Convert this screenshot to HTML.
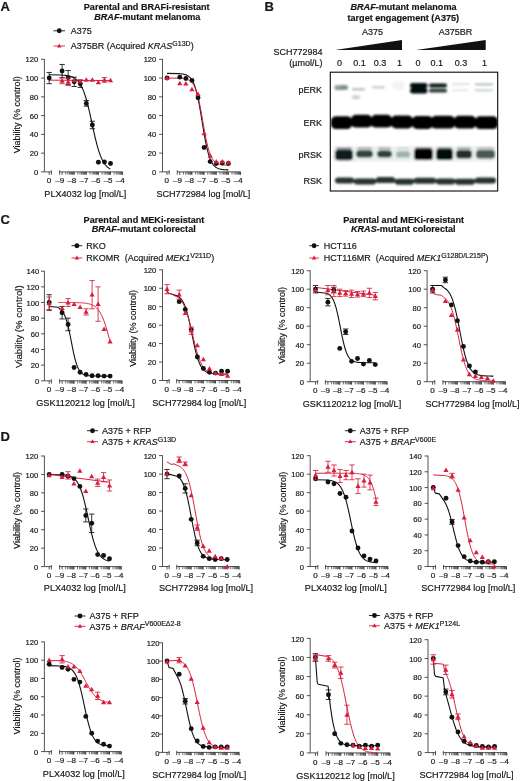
<!DOCTYPE html>
<html><head><meta charset="utf-8"><title>Figure</title>
<style>html,body{margin:0;padding:0;background:#fff}svg{display:block;font-family:"Liberation Sans", Arial, sans-serif}text{fill:#161616;stroke:#161616;stroke-width:0.18px}</style>
</head><body>
<svg width="520" height="781" viewBox="0 0 520 781">
<rect width="520" height="781" fill="#fff"/>
<text x="0.6" y="10.8" font-size="13" font-weight="bold" fill="#000">A</text>
<text x="264.5" y="10.9" font-size="13" font-weight="bold" fill="#000">B</text>
<text x="0.4" y="224" font-size="13" font-weight="bold" fill="#000">C</text>
<text x="0.6" y="440.5" font-size="13" font-weight="bold" fill="#000">D</text>
<text x="146.7" y="10.2" text-anchor="middle" font-size="9.1" font-weight="bold" fill="#111">Parental and BRAFi-resistant</text>
<text x="147.3" y="19.9" text-anchor="middle" font-size="9.1" font-weight="bold" fill="#111"><tspan font-style="italic">BRAF</tspan>-mutant melanoma</text>
<path d="M53.5 30.8h11.5" stroke="#111" stroke-width="0.9"/><circle cx="59.25" cy="30.8" r="2.45" fill="#111"/><text x="70.8" y="34" font-size="9" >A375</text>
<path d="M53.5 46h11.5" stroke="#d81e3c" stroke-width="0.9"/><path d="M59.25 43.5l2.2 3.9h-4.4z" fill="#d81e3c"/><text x="70.8" y="49.2" font-size="9" >A375BR (Acquired <tspan font-style="italic">KRAS</tspan><tspan dy="-3.2" font-size="7">G13D</tspan><tspan dy="3.2">)</tspan></text>
<g><path d="M44.4 59V171.9" stroke="#2a2a2a" stroke-width="0.8" fill="none"/>
<path d="M41 171.9H44.4M41 153.13H44.4M41 134.37H44.4M41 115.6H44.4M41 96.83H44.4M41 78.07H44.4M41 59.3H44.4" stroke="#2a2a2a" stroke-width="0.8" fill="none"/>
<text x="38.2" y="175" text-anchor="end" font-size="7.6">0</text>
<text x="38.2" y="156.23" text-anchor="end" font-size="7.6">20</text>
<text x="38.2" y="137.47" text-anchor="end" font-size="7.6">40</text>
<text x="38.2" y="118.7" text-anchor="end" font-size="7.6">60</text>
<text x="38.2" y="99.93" text-anchor="end" font-size="7.6">80</text>
<text x="38.2" y="81.17" text-anchor="end" font-size="7.6">100</text>
<text x="38.2" y="62.4" text-anchor="end" font-size="7.6">120</text>
<path d="M44.4 171.9H51.4M49.2 171.9v3M51.4 170.3v4.4M59.6 171.9H122.6M59.6 170.3v4.4M62.1 171.9v3M74.2 171.9v3M86.3 171.9v3M98.4 171.9v3M110.5 171.9v3M122.6 171.9v3" stroke="#2a2a2a" stroke-width="0.8" fill="none"/>
<path d="M65.74 171.9v2.7M67.87 171.9v2.7M69.38 171.9v2.7M70.56 171.9v2.7M71.52 171.9v2.7M72.33 171.9v2.7M73.03 171.9v2.7M73.65 171.9v2.7M77.84 171.9v2.7M79.97 171.9v2.7M81.48 171.9v2.7M82.66 171.9v2.7M83.62 171.9v2.7M84.43 171.9v2.7M85.13 171.9v2.7M85.75 171.9v2.7M89.94 171.9v2.7M92.07 171.9v2.7M93.58 171.9v2.7M94.76 171.9v2.7M95.72 171.9v2.7M96.53 171.9v2.7M97.23 171.9v2.7M97.85 171.9v2.7M102.04 171.9v2.7M104.17 171.9v2.7M105.68 171.9v2.7M106.86 171.9v2.7M107.82 171.9v2.7M108.63 171.9v2.7M109.33 171.9v2.7M109.95 171.9v2.7M114.14 171.9v2.7M116.27 171.9v2.7M117.78 171.9v2.7M118.96 171.9v2.7M119.92 171.9v2.7M120.73 171.9v2.7M121.43 171.9v2.7M122.05 171.9v2.7" stroke="#333" stroke-width="0.7" fill="none"/>
<text x="49" y="183.2" text-anchor="middle" font-size="8" >0</text>
<text x="59.7" y="183.2" text-anchor="middle" font-size="8" >–9</text>
<text x="71.8" y="183.2" text-anchor="middle" font-size="8" >–8</text>
<text x="83.9" y="183.2" text-anchor="middle" font-size="8" >–7</text>
<text x="96" y="183.2" text-anchor="middle" font-size="8" >–6</text>
<text x="108.1" y="183.2" text-anchor="middle" font-size="8" >–5</text>
<text x="120.2" y="183.2" text-anchor="middle" font-size="8" >–4</text>
<text x="85.3" y="196.7" text-anchor="middle" font-size="9.1" >PLX4032 log [mol/L]</text>
<text transform="translate(20.1 114.8) rotate(-90)" text-anchor="middle" font-size="9" >Viability (% control)</text>
<path d="M49.2 74.78L60.65 75.03L61.27 75.06L61.89 75.1L62.52 75.14L63.14 75.18L63.76 75.23L64.39 75.29L65.01 75.35L65.63 75.42L66.26 75.5L66.88 75.59L67.5 75.69L68.13 75.81L68.75 75.93L69.37 76.08L70 76.24L70.62 76.42L71.24 76.62L71.86 76.85L72.49 77.1L73.11 77.39L73.73 77.7L74.36 78.06L74.98 78.46L75.6 78.9L76.23 79.39L76.85 79.94L77.47 80.55L78.1 81.23L78.72 81.98L79.34 82.81L79.97 83.73L80.59 84.74L81.21 85.85L81.84 87.07L82.46 88.4L83.08 89.85L83.7 91.42L84.33 93.12L84.95 94.95L85.57 96.91L86.2 99L86.82 101.22L87.44 103.57L88.07 106.02L88.69 108.59L89.31 111.25L89.94 113.98L90.56 116.78L91.18 119.63L91.81 122.5L92.43 125.38L93.05 128.24L93.67 131.07L94.3 133.85L94.92 136.56L95.54 139.18L96.17 141.7L96.79 144.11L97.41 146.4L98.04 148.57L98.66 150.6L99.28 152.51L99.91 154.29L100.53 155.93L101.15 157.45L101.78 158.85L102.4 160.13L103.02 161.3L103.65 162.37L104.27 163.34L104.89 164.23L105.51 165.02L106.14 165.74L106.76 166.39L107.38 166.98L108.01 167.5L108.63 167.97L109.25 168.4L109.88 168.78L110.5 169.12" stroke="#111" stroke-width="1.1" fill="none" stroke-linejoin="round"/>
<path d="M49.2 80.13L110.5 80.6" stroke="#d81e3c" stroke-width="1.0" fill="none"/>
<path d="M49.2 72.44V83.7M46.5 72.44h5.4M46.5 83.7h5.4M62.1 64.46V77.6M59.4 64.46h5.4M59.4 77.6h5.4M68.15 70.56V84.63M65.45 70.56h5.4M65.45 84.63h5.4M74.2 77.13V86.51M71.5 77.13h5.4M71.5 86.51h5.4M80.25 79.94V87.45M77.55 79.94h5.4M77.55 87.45h5.4M86.3 100.59V106.22M83.6 100.59h5.4M83.6 106.22h5.4M92.35 121.23V128.74M89.65 121.23h5.4M89.65 128.74h5.4" stroke="#111" stroke-width="0.85" fill="none"/>
<g fill="#111"><circle cx="49.2" cy="78.07" r="2.45"/><circle cx="62.1" cy="71.03" r="2.45"/><circle cx="68.15" cy="77.6" r="2.45"/><circle cx="74.2" cy="81.82" r="2.45"/><circle cx="80.25" cy="83.7" r="2.45"/><circle cx="86.3" cy="103.4" r="2.45"/><circle cx="92.35" cy="124.98" r="2.45"/><circle cx="98.4" cy="162.24" r="2.45"/><circle cx="104.45" cy="162.05" r="2.45"/><circle cx="110.5" cy="163.46" r="2.45"/></g>
<path d="M62.1 78.07V83.7M59.4 78.07h5.4M59.4 83.7h5.4M68.15 78.07V85.57M65.45 78.07h5.4M65.45 85.57h5.4M104.45 77.6V82.29M101.75 77.6h5.4M101.75 82.29h5.4" stroke="#d81e3c" stroke-width="0.85" fill="none"/>
<g fill="#d81e3c"><path d="M62.1 78.28l2.6 4.5h-5.2z"/><path d="M68.15 79.22l2.6 4.5h-5.2z"/><path d="M74.2 77.81l2.6 4.5h-5.2z"/><path d="M80.25 78.75l2.6 4.5h-5.2z"/><path d="M86.3 77.34l2.6 4.5h-5.2z"/><path d="M92.35 77.34l2.6 4.5h-5.2z"/><path d="M98.4 79.69l2.6 4.5h-5.2z"/><path d="M104.45 77.34l2.6 4.5h-5.2z"/><path d="M110.5 77.81l2.6 4.5h-5.2z"/></g></g>
<g><path d="M162.5 59V171.9" stroke="#2a2a2a" stroke-width="0.8" fill="none"/>
<path d="M159.1 171.9H162.5M159.1 153.13H162.5M159.1 134.37H162.5M159.1 115.6H162.5M159.1 96.83H162.5M159.1 78.07H162.5M159.1 59.3H162.5" stroke="#2a2a2a" stroke-width="0.8" fill="none"/>
<text x="156.3" y="175" text-anchor="end" font-size="7.6">0</text>
<text x="156.3" y="156.23" text-anchor="end" font-size="7.6">20</text>
<text x="156.3" y="137.47" text-anchor="end" font-size="7.6">40</text>
<text x="156.3" y="118.7" text-anchor="end" font-size="7.6">60</text>
<text x="156.3" y="99.93" text-anchor="end" font-size="7.6">80</text>
<text x="156.3" y="81.17" text-anchor="end" font-size="7.6">100</text>
<text x="156.3" y="62.4" text-anchor="end" font-size="7.6">120</text>
<path d="M162.5 171.9H169.2M167 171.9v3M169.2 170.3v4.4M177.3 171.9H240.55M177.3 170.3v4.4M179.8 171.9v3M191.95 171.9v3M204.1 171.9v3M216.25 171.9v3M228.4 171.9v3M240.55 171.9v3" stroke="#2a2a2a" stroke-width="0.8" fill="none"/>
<path d="M183.46 171.9v2.7M185.6 171.9v2.7M187.12 171.9v2.7M188.29 171.9v2.7M189.25 171.9v2.7M190.07 171.9v2.7M190.77 171.9v2.7M191.39 171.9v2.7M195.61 171.9v2.7M197.75 171.9v2.7M199.27 171.9v2.7M200.44 171.9v2.7M201.4 171.9v2.7M202.22 171.9v2.7M202.92 171.9v2.7M203.54 171.9v2.7M207.76 171.9v2.7M209.9 171.9v2.7M211.42 171.9v2.7M212.59 171.9v2.7M213.55 171.9v2.7M214.37 171.9v2.7M215.07 171.9v2.7M215.69 171.9v2.7M219.91 171.9v2.7M222.05 171.9v2.7M223.57 171.9v2.7M224.74 171.9v2.7M225.7 171.9v2.7M226.52 171.9v2.7M227.22 171.9v2.7M227.84 171.9v2.7M232.06 171.9v2.7M234.2 171.9v2.7M235.72 171.9v2.7M236.89 171.9v2.7M237.85 171.9v2.7M238.67 171.9v2.7M239.37 171.9v2.7M239.99 171.9v2.7" stroke="#333" stroke-width="0.7" fill="none"/>
<text x="166.8" y="183.2" text-anchor="middle" font-size="8" >0</text>
<text x="177.4" y="183.2" text-anchor="middle" font-size="8" >–9</text>
<text x="189.55" y="183.2" text-anchor="middle" font-size="8" >–8</text>
<text x="201.7" y="183.2" text-anchor="middle" font-size="8" >–7</text>
<text x="213.85" y="183.2" text-anchor="middle" font-size="8" >–6</text>
<text x="226" y="183.2" text-anchor="middle" font-size="8" >–5</text>
<text x="238.15" y="183.2" text-anchor="middle" font-size="8" >–4</text>
<text x="203.4" y="196.7" text-anchor="middle" font-size="9.1" >SCH772984 log [mol/L]</text>
<path d="M167 73.38L178.34 73.59L178.97 73.63L179.59 73.67L180.22 73.73L180.84 73.79L181.47 73.86L182.1 73.94L182.72 74.04L183.35 74.15L183.97 74.29L184.6 74.45L185.22 74.63L185.85 74.84L186.48 75.09L187.1 75.39L187.73 75.73L188.35 76.12L188.98 76.58L189.61 77.12L190.23 77.74L190.86 78.46L191.48 79.29L192.11 80.24L192.73 81.34L193.36 82.59L193.99 84.01L194.61 85.62L195.24 87.44L195.86 89.47L196.49 91.74L197.11 94.24L197.74 96.97L198.37 99.94L198.99 103.14L199.62 106.53L200.24 110.1L200.87 113.81L201.49 117.62L202.12 121.47L202.75 125.34L203.37 129.15L204 132.87L204.62 136.46L205.25 139.88L205.87 143.09L206.5 146.09L207.13 148.86L207.75 151.38L208.38 153.67L209 155.73L209.63 157.58L210.25 159.21L210.88 160.66L211.51 161.93L212.13 163.04L212.76 164.01L213.38 164.85L214.01 165.58L214.63 166.21L215.26 166.76L215.89 167.22L216.51 167.63L217.14 167.98L217.76 168.27L218.39 168.53L219.01 168.75L219.64 168.93L220.27 169.09L220.89 169.23L221.52 169.35L222.14 169.45L222.77 169.53L223.39 169.6L224.02 169.67L224.65 169.72L225.27 169.76L225.9 169.8L226.52 169.83L227.15 169.86L227.77 169.89L228.4 169.91" stroke="#111" stroke-width="1.1" fill="none" stroke-linejoin="round"/>
<path d="M167 78.07L178.34 78.2L178.97 78.22L179.59 78.25L180.22 78.28L180.84 78.32L181.47 78.36L182.1 78.42L182.72 78.48L183.35 78.55L183.97 78.64L184.6 78.74L185.22 78.86L185.85 79.01L186.48 79.17L187.1 79.37L187.73 79.6L188.35 79.88L188.98 80.19L189.61 80.57L190.23 81L190.86 81.51L191.48 82.11L192.11 82.8L192.73 83.6L193.36 84.52L193.99 85.59L194.61 86.81L195.24 88.2L195.86 89.79L196.49 91.58L197.11 93.58L197.74 95.82L198.37 98.28L198.99 100.97L199.62 103.88L200.24 107L200.87 110.3L201.49 113.74L202.12 117.28L202.75 120.89L203.37 124.51L204 128.09L204.62 131.58L205.25 134.95L205.87 138.15L206.5 141.15L207.13 143.95L207.75 146.51L208.38 148.85L209 150.95L209.63 152.84L210.25 154.51L210.88 155.99L211.51 157.29L212.13 158.42L212.76 159.41L213.38 160.26L214.01 161L214.63 161.63L215.26 162.18L215.89 162.64L216.51 163.04L217.14 163.39L217.76 163.68L218.39 163.93L219.01 164.14L219.64 164.32L220.27 164.47L220.89 164.6L221.52 164.71L222.14 164.81L222.77 164.89L223.39 164.96L224.02 165.01L224.65 165.06L225.27 165.1L225.9 165.14L226.52 165.17L227.15 165.19L227.77 165.21L228.4 165.23" stroke="#d81e3c" stroke-width="1.0" fill="none" stroke-linejoin="round"/>
<g fill="#111"><circle cx="167" cy="78.07" r="2.45"/><circle cx="179.8" cy="77.13" r="2.45"/><circle cx="185.88" cy="78.54" r="2.45"/><circle cx="191.95" cy="80.41" r="2.45"/><circle cx="198.03" cy="97.77" r="2.45"/><circle cx="204.1" cy="147.5" r="2.45"/><circle cx="210.18" cy="161.58" r="2.45"/><circle cx="216.25" cy="163.46" r="2.45"/><circle cx="222.33" cy="162.99" r="2.45"/><circle cx="228.4" cy="163.46" r="2.45"/></g>
<g fill="#d81e3c"><path d="M167 75.47l2.6 4.5h-5.2z"/><path d="M179.8 80.63l2.6 4.5h-5.2z"/><path d="M185.88 81.1l2.6 4.5h-5.2z"/><path d="M191.95 86.73l2.6 4.5h-5.2z"/><path d="M198.03 91.42l2.6 4.5h-5.2z"/><path d="M204.1 130.83l2.6 4.5h-5.2z"/><path d="M210.18 153.35l2.6 4.5h-5.2z"/><path d="M216.25 158.98l2.6 4.5h-5.2z"/><path d="M222.33 158.98l2.6 4.5h-5.2z"/><path d="M228.4 159.92l2.6 4.5h-5.2z"/></g></g>
<text x="144" y="222.5" text-anchor="middle" font-size="9.1" font-weight="bold" fill="#111">Parental and MEKi-resistant</text>
<text x="143.7" y="232.4" text-anchor="middle" font-size="9.1" font-weight="bold" fill="#111"><tspan font-style="italic">BRAF</tspan>-mutant colorectal</text>
<path d="M71.5 245.7h10.8" stroke="#111" stroke-width="0.9"/><circle cx="76.9" cy="245.7" r="2.45" fill="#111"/><text x="86.2" y="248.9" font-size="9" >RKO</text>
<path d="M71.5 258h10.8" stroke="#d81e3c" stroke-width="0.9"/><path d="M76.9 255.5l2.2 3.9h-4.4z" fill="#d81e3c"/><text x="86.2" y="261.2" font-size="9" >RKOMR&#160;&#160;(Acquired <tspan font-style="italic">MEK1</tspan><tspan dy="-3.2" font-size="7">V211D</tspan><tspan dy="3.2">)</tspan></text>
<g><path d="M44.4 270.9V380.8" stroke="#2a2a2a" stroke-width="0.8" fill="none"/>
<path d="M41 380.8H44.4M41 365.14H44.4M41 349.49H44.4M41 333.83H44.4M41 318.17H44.4M41 302.51H44.4M41 286.86H44.4M41 271.2H44.4" stroke="#2a2a2a" stroke-width="0.8" fill="none"/>
<text x="39.2" y="383.9" text-anchor="end" font-size="7.6">0</text>
<text x="39.2" y="368.24" text-anchor="end" font-size="7.6">20</text>
<text x="39.2" y="352.59" text-anchor="end" font-size="7.6">40</text>
<text x="39.2" y="336.93" text-anchor="end" font-size="7.6">60</text>
<text x="39.2" y="321.27" text-anchor="end" font-size="7.6">80</text>
<text x="39.2" y="305.61" text-anchor="end" font-size="7.6">100</text>
<text x="39.2" y="289.96" text-anchor="end" font-size="7.6">120</text>
<text x="39.2" y="274.3" text-anchor="end" font-size="7.6">140</text>
<path d="M44.4 380.8H51.4M49.2 380.8v3M51.4 379.2v4.4M59.6 380.8H122.1M59.6 379.2v4.4M62.1 380.8v3M74.1 380.8v3M86.1 380.8v3M98.1 380.8v3M110.1 380.8v3M122.1 380.8v3" stroke="#2a2a2a" stroke-width="0.8" fill="none"/>
<path d="M65.71 380.8v2.7M67.83 380.8v2.7M69.32 380.8v2.7M70.49 380.8v2.7M71.44 380.8v2.7M72.24 380.8v2.7M72.94 380.8v2.7M73.55 380.8v2.7M77.71 380.8v2.7M79.83 380.8v2.7M81.32 380.8v2.7M82.49 380.8v2.7M83.44 380.8v2.7M84.24 380.8v2.7M84.94 380.8v2.7M85.55 380.8v2.7M89.71 380.8v2.7M91.83 380.8v2.7M93.32 380.8v2.7M94.49 380.8v2.7M95.44 380.8v2.7M96.24 380.8v2.7M96.94 380.8v2.7M97.55 380.8v2.7M101.71 380.8v2.7M103.83 380.8v2.7M105.32 380.8v2.7M106.49 380.8v2.7M107.44 380.8v2.7M108.24 380.8v2.7M108.94 380.8v2.7M109.55 380.8v2.7M113.71 380.8v2.7M115.83 380.8v2.7M117.32 380.8v2.7M118.49 380.8v2.7M119.44 380.8v2.7M120.24 380.8v2.7M120.94 380.8v2.7M121.55 380.8v2.7" stroke="#333" stroke-width="0.7" fill="none"/>
<text x="49" y="392.1" text-anchor="middle" font-size="8" >0</text>
<text x="59.7" y="392.1" text-anchor="middle" font-size="8" >–9</text>
<text x="71.7" y="392.1" text-anchor="middle" font-size="8" >–8</text>
<text x="83.7" y="392.1" text-anchor="middle" font-size="8" >–7</text>
<text x="95.7" y="392.1" text-anchor="middle" font-size="8" >–6</text>
<text x="107.7" y="392.1" text-anchor="middle" font-size="8" >–5</text>
<text x="119.7" y="392.1" text-anchor="middle" font-size="8" >–4</text>
<text x="85.5" y="406.4" text-anchor="middle" font-size="9.1" >GSK1120212 log [mol/L]</text>
<text transform="translate(21.9 326.7) rotate(-90)" text-anchor="middle" font-size="9.7" >Viability (% control)</text>
<path d="M49.2 306.43L58.2 307.21L60.66 309.92L61.28 310.44L61.9 311.06L62.51 311.79L63.13 312.65L63.75 313.65L64.37 314.81L64.99 316.16L65.6 317.7L66.22 319.45L66.84 321.43L67.46 323.63L68.08 326.05L68.69 328.69L69.31 331.51L69.93 334.49L70.55 337.59L71.17 340.76L71.78 343.94L72.4 347.09L73.02 350.14L73.64 353.06L74.26 355.8L74.87 358.35L75.49 360.68L76.11 362.78L76.73 364.65L77.35 366.31L77.96 367.77L78.58 369.03L79.2 370.12L79.82 371.06L80.44 371.86L81.05 372.54L81.67 373.11L82.29 373.6L82.91 374.01L83.53 374.35L84.14 374.64L84.76 374.89L85.38 375.09L86 375.26L86.62 375.4L87.23 375.52L87.85 375.61L88.47 375.7L89.09 375.76L89.71 375.82L90.32 375.87L90.94 375.91L91.56 375.94L92.18 375.97L92.8 375.99L93.41 376.01L94.03 376.03L94.65 376.04L95.27 376.05L95.89 376.06L96.5 376.07L97.12 376.07L97.74 376.08L98.36 376.08L98.98 376.09L99.59 376.09L100.21 376.09L100.83 376.09L101.45 376.09L102.07 376.1L102.68 376.1L103.3 376.1L103.92 376.1L104.54 376.1L105.16 376.1L105.77 376.1L106.39 376.1L107.01 376.1L107.63 376.1L108.25 376.1L108.86 376.1L109.48 376.1L110.1 376.1" stroke="#111" stroke-width="1.1" fill="none" stroke-linejoin="round"/>
<path d="M58.5 302.52L59.15 302.52L59.79 302.52L60.44 302.52L61.08 302.52L61.73 302.52L62.37 302.52L63.02 302.52L63.66 302.52L64.31 302.53L64.95 302.53L65.59 302.53L66.24 302.53L66.88 302.53L67.53 302.54L68.17 302.54L68.82 302.54L69.47 302.55L70.11 302.55L70.75 302.56L71.4 302.56L72.04 302.57L72.69 302.57L73.33 302.58L73.98 302.59L74.62 302.6L75.27 302.61L75.91 302.63L76.56 302.64L77.2 302.66L77.85 302.67L78.49 302.7L79.14 302.72L79.78 302.75L80.43 302.78L81.08 302.81L81.72 302.85L82.36 302.89L83.01 302.94L83.66 303L84.3 303.06L84.94 303.14L85.59 303.22L86.23 303.31L86.88 303.41L87.52 303.53L88.17 303.66L88.81 303.81L89.46 303.98L90.11 304.17L90.75 304.38L91.4 304.62L92.04 304.89L92.69 305.19L93.33 305.53L93.97 305.91L94.62 306.33L95.27 306.81L95.91 307.34L96.56 307.93L97.2 308.59L97.84 309.32L98.49 310.13L99.13 311.02L99.78 312.01L100.42 313.09L101.07 314.28L101.72 315.57L102.36 316.97L103 318.49L103.65 320.12L104.3 321.86L104.94 323.72L105.58 325.69L106.23 327.76L106.88 329.92L107.52 332.16L108.16 334.47L108.81 336.84L109.46 339.24L110.1 341.66" stroke="#d81e3c" stroke-width="1.0" fill="none" stroke-linejoin="round"/>
<path d="M49.2 294.69V310.34M46.5 294.69h5.4M46.5 310.34h5.4M62.1 306.43V318.95M59.4 306.43h5.4M59.4 318.95h5.4M68.1 318.17V330.7M65.4 318.17h5.4M65.4 330.7h5.4" stroke="#111" stroke-width="0.85" fill="none"/>
<g fill="#111"><circle cx="49.2" cy="302.51" r="2.45"/><circle cx="62.1" cy="312.69" r="2.45"/><circle cx="68.1" cy="324.43" r="2.45"/><circle cx="74.1" cy="367.49" r="2.45"/><circle cx="80.1" cy="372.19" r="2.45"/><circle cx="86.1" cy="374.54" r="2.45"/><circle cx="92.1" cy="375.71" r="2.45"/><circle cx="98.1" cy="375.71" r="2.45"/><circle cx="104.1" cy="376.1" r="2.45"/><circle cx="110.1" cy="376.1" r="2.45"/></g>
<path d="M49.2 297.03V309.56M46.5 297.03h5.4M46.5 309.56h5.4M68.1 298.6V306.43M65.4 298.6h5.4M65.4 306.43h5.4M86.1 308.78V315.04M83.4 308.78h5.4M83.4 315.04h5.4M92.1 280.59V308.78M89.4 280.59h5.4M89.4 308.78h5.4M98.1 286.86V321.3M95.4 286.86h5.4M95.4 321.3h5.4" stroke="#d81e3c" stroke-width="0.85" fill="none"/>
<g fill="#d81e3c"><path d="M49.2 300.7l2.6 4.5h-5.2z"/><path d="M62.1 305.39l2.6 4.5h-5.2z"/><path d="M68.1 299.91l2.6 4.5h-5.2z"/><path d="M74.1 301.48l2.6 4.5h-5.2z"/><path d="M80.1 304.61l2.6 4.5h-5.2z"/><path d="M86.1 309.31l2.6 4.5h-5.2z"/><path d="M92.1 292.09l2.6 4.5h-5.2z"/><path d="M98.1 301.48l2.6 4.5h-5.2z"/><path d="M104.1 326.53l2.6 4.5h-5.2z"/><path d="M110.1 339.06l2.6 4.5h-5.2z"/></g></g>
<g><path d="M162.5 269.5V380.5" stroke="#2a2a2a" stroke-width="0.8" fill="none"/>
<path d="M159.1 380.5H162.5M159.1 362.05H162.5M159.1 343.6H162.5M159.1 325.15H162.5M159.1 306.7H162.5M159.1 288.25H162.5M159.1 269.8H162.5" stroke="#2a2a2a" stroke-width="0.8" fill="none"/>
<text x="156.3" y="383.6" text-anchor="end" font-size="7.6">0</text>
<text x="156.3" y="365.15" text-anchor="end" font-size="7.6">20</text>
<text x="156.3" y="346.7" text-anchor="end" font-size="7.6">40</text>
<text x="156.3" y="328.25" text-anchor="end" font-size="7.6">60</text>
<text x="156.3" y="309.8" text-anchor="end" font-size="7.6">80</text>
<text x="156.3" y="291.35" text-anchor="end" font-size="7.6">100</text>
<text x="156.3" y="272.9" text-anchor="end" font-size="7.6">120</text>
<path d="M162.5 380.5H169.2M167 380.5v3M169.2 378.9v4.4M176.7 380.5H239.7M176.7 378.9v4.4M179.2 380.5v3M191.3 380.5v3M203.4 380.5v3M215.5 380.5v3M227.6 380.5v3M239.7 380.5v3" stroke="#2a2a2a" stroke-width="0.8" fill="none"/>
<path d="M182.84 380.5v2.7M184.97 380.5v2.7M186.48 380.5v2.7M187.66 380.5v2.7M188.62 380.5v2.7M189.43 380.5v2.7M190.13 380.5v2.7M190.75 380.5v2.7M194.94 380.5v2.7M197.07 380.5v2.7M198.58 380.5v2.7M199.76 380.5v2.7M200.72 380.5v2.7M201.53 380.5v2.7M202.23 380.5v2.7M202.85 380.5v2.7M207.04 380.5v2.7M209.17 380.5v2.7M210.68 380.5v2.7M211.86 380.5v2.7M212.82 380.5v2.7M213.63 380.5v2.7M214.33 380.5v2.7M214.95 380.5v2.7M219.14 380.5v2.7M221.27 380.5v2.7M222.78 380.5v2.7M223.96 380.5v2.7M224.92 380.5v2.7M225.73 380.5v2.7M226.43 380.5v2.7M227.05 380.5v2.7M231.24 380.5v2.7M233.37 380.5v2.7M234.88 380.5v2.7M236.06 380.5v2.7M237.02 380.5v2.7M237.83 380.5v2.7M238.53 380.5v2.7M239.15 380.5v2.7" stroke="#333" stroke-width="0.7" fill="none"/>
<text x="166.8" y="391.8" text-anchor="middle" font-size="8" >0</text>
<text x="176.8" y="391.8" text-anchor="middle" font-size="8" >–9</text>
<text x="188.9" y="391.8" text-anchor="middle" font-size="8" >–8</text>
<text x="201" y="391.8" text-anchor="middle" font-size="8" >–7</text>
<text x="213.1" y="391.8" text-anchor="middle" font-size="8" >–6</text>
<text x="225.2" y="391.8" text-anchor="middle" font-size="8" >–5</text>
<text x="237.3" y="391.8" text-anchor="middle" font-size="8" >–4</text>
<text x="199.3" y="406.1" text-anchor="middle" font-size="9.1" >SCH772984 log [mol/L]</text>
<text transform="translate(136.2 328.35) rotate(-90)" text-anchor="middle" font-size="9" >Viability (% control)</text>
<path d="M167 291.02L168.5 293.23L171 293.79L177.75 296.13L178.37 296.51L178.99 296.95L179.62 297.45L180.24 298.03L180.86 298.69L181.49 299.45L182.11 300.32L182.73 301.31L183.36 302.43L183.98 303.69L184.6 305.11L185.23 306.69L185.85 308.45L186.47 310.39L187.1 312.51L187.72 314.81L188.34 317.29L188.96 319.93L189.59 322.72L190.21 325.63L190.83 328.63L191.46 331.69L192.08 334.78L192.7 337.86L193.33 340.9L193.95 343.85L194.57 346.7L195.2 349.4L195.82 351.95L196.44 354.34L197.07 356.54L197.69 358.56L198.31 360.39L198.94 362.05L199.56 363.54L200.18 364.87L200.8 366.05L201.43 367.09L202.05 368.01L202.67 368.82L203.3 369.52L203.92 370.13L204.54 370.67L205.17 371.13L205.79 371.54L206.41 371.88L207.04 372.19L207.66 372.45L208.28 372.67L208.91 372.86L209.53 373.03L210.15 373.17L210.77 373.3L211.4 373.4L212.02 373.49L212.64 373.57L213.27 373.64L213.89 373.7L214.51 373.74L215.14 373.79L215.76 373.82L216.38 373.85L217.01 373.88L217.63 373.9L218.25 373.92L218.88 373.94L219.5 373.96L220.12 373.97L220.75 373.98L221.37 373.99L221.99 374L222.61 374L223.24 374.01L223.86 374.01L224.48 374.02L225.11 374.02L225.73 374.02L226.35 374.03L226.98 374.03L227.6 374.03" stroke="#111" stroke-width="1.1" fill="none" stroke-linejoin="round"/>
<path d="M167 291.02L168.5 293.23L171 293.79L177.75 297.32L178.37 297.79L178.99 298.31L179.62 298.9L180.24 299.57L180.86 300.31L181.49 301.13L182.11 302.05L182.73 303.07L183.36 304.2L183.98 305.44L184.6 306.81L185.23 308.3L185.85 309.92L186.47 311.67L187.1 313.55L187.72 315.57L188.34 317.71L188.96 319.97L189.59 322.33L190.21 324.79L190.83 327.33L191.46 329.92L192.08 332.55L192.7 335.2L193.33 337.84L193.95 340.45L194.57 343.01L195.2 345.5L195.82 347.9L196.44 350.2L197.07 352.38L197.69 354.45L198.31 356.38L198.94 358.19L199.56 359.86L200.18 361.39L200.8 362.81L201.43 364.09L202.05 365.26L202.67 366.32L203.3 367.28L203.92 368.14L204.54 368.91L205.17 369.6L205.79 370.22L206.41 370.77L207.04 371.26L207.66 371.7L208.28 372.08L208.91 372.42L209.53 372.73L210.15 372.99L210.77 373.23L211.4 373.44L212.02 373.62L212.64 373.78L213.27 373.93L213.89 374.05L214.51 374.16L215.14 374.26L215.76 374.34L216.38 374.42L217.01 374.49L217.63 374.54L218.25 374.6L218.88 374.64L219.5 374.68L220.12 374.72L220.75 374.75L221.37 374.77L221.99 374.8L222.61 374.82L223.24 374.83L223.86 374.85L224.48 374.86L225.11 374.88L225.73 374.89L226.35 374.9L226.98 374.91L227.6 374.91" stroke="#d81e3c" stroke-width="1.0" fill="none" stroke-linejoin="round"/>
<g fill="#111"><circle cx="179.2" cy="301.63" r="2.45"/><circle cx="185.25" cy="309.47" r="2.45"/><circle cx="191.3" cy="329.76" r="2.45"/><circle cx="197.35" cy="356.98" r="2.45"/><circle cx="203.4" cy="368.51" r="2.45"/><circle cx="209.45" cy="372.2" r="2.45"/><circle cx="215.5" cy="373.12" r="2.45"/><circle cx="221.55" cy="371.27" r="2.45"/><circle cx="227.6" cy="371.27" r="2.45"/></g>
<path d="M167 284.56V293.79M164.3 284.56h5.4M164.3 293.79h5.4M179.2 290.1V299.32M176.5 290.1h5.4M176.5 299.32h5.4M191.3 327V334.38M188.6 327h5.4M188.6 334.38h5.4" stroke="#d81e3c" stroke-width="0.85" fill="none"/>
<g fill="#d81e3c"><path d="M167 286.57l2.6 4.5h-5.2z"/><path d="M179.2 292.11l2.6 4.5h-5.2z"/><path d="M185.25 310.56l2.6 4.5h-5.2z"/><path d="M191.3 328.08l2.6 4.5h-5.2z"/><path d="M197.35 342.84l2.6 4.5h-5.2z"/><path d="M203.4 356.68l2.6 4.5h-5.2z"/><path d="M209.45 365.91l2.6 4.5h-5.2z"/><path d="M215.5 370.52l2.6 4.5h-5.2z"/><path d="M221.55 371.44l2.6 4.5h-5.2z"/><path d="M227.6 373.29l2.6 4.5h-5.2z"/></g></g>
<text x="403.6" y="222.5" text-anchor="middle" font-size="9.1" font-weight="bold" fill="#111">Parental and MEKi-resistant</text>
<text x="403.3" y="232.4" text-anchor="middle" font-size="9.1" font-weight="bold" fill="#111"><tspan font-style="italic">KRAS</tspan>-mutant colorectal</text>
<path d="M309.3 245.7h9.6" stroke="#111" stroke-width="0.9"/><circle cx="314.1" cy="245.7" r="2.45" fill="#111"/><text x="323.8" y="248.9" font-size="9" >HCT116</text>
<path d="M309.3 258h9.6" stroke="#d81e3c" stroke-width="0.9"/><path d="M314.1 255.5l2.2 3.9h-4.4z" fill="#d81e3c"/><text x="323.8" y="261.2" font-size="9" >HCT116MR&#160;&#160;(Acquired <tspan font-style="italic">MEK1</tspan><tspan dy="-3.2" font-size="7">G128D/L215P</tspan><tspan dy="3.2">)</tspan></text>
<g><path d="M310.2 270.4V381.7" stroke="#2a2a2a" stroke-width="0.8" fill="none"/>
<path d="M306.8 381.7H310.2M306.8 363.2H310.2M306.8 344.7H310.2M306.8 326.2H310.2M306.8 307.7H310.2M306.8 289.2H310.2M306.8 270.7H310.2" stroke="#2a2a2a" stroke-width="0.8" fill="none"/>
<text x="304" y="384.8" text-anchor="end" font-size="7.6">0</text>
<text x="304" y="366.3" text-anchor="end" font-size="7.6">20</text>
<text x="304" y="347.8" text-anchor="end" font-size="7.6">40</text>
<text x="304" y="329.3" text-anchor="end" font-size="7.6">60</text>
<text x="304" y="310.8" text-anchor="end" font-size="7.6">80</text>
<text x="304" y="292.3" text-anchor="end" font-size="7.6">100</text>
<text x="304" y="273.8" text-anchor="end" font-size="7.6">120</text>
<path d="M310.2 381.7H317.7M315.5 381.7v3M317.7 380.1v4.4M325.4 381.7H387.15M325.4 380.1v4.4M327.9 381.7v3M339.75 381.7v3M351.6 381.7v3M363.45 381.7v3M375.3 381.7v3M387.15 381.7v3" stroke="#2a2a2a" stroke-width="0.8" fill="none"/>
<path d="M331.47 381.7v2.7M333.55 381.7v2.7M335.03 381.7v2.7M336.18 381.7v2.7M337.12 381.7v2.7M337.91 381.7v2.7M338.6 381.7v2.7M339.21 381.7v2.7M343.32 381.7v2.7M345.4 381.7v2.7M346.88 381.7v2.7M348.03 381.7v2.7M348.97 381.7v2.7M349.76 381.7v2.7M350.45 381.7v2.7M351.06 381.7v2.7M355.17 381.7v2.7M357.25 381.7v2.7M358.73 381.7v2.7M359.88 381.7v2.7M360.82 381.7v2.7M361.61 381.7v2.7M362.3 381.7v2.7M362.91 381.7v2.7M367.02 381.7v2.7M369.1 381.7v2.7M370.58 381.7v2.7M371.73 381.7v2.7M372.67 381.7v2.7M373.46 381.7v2.7M374.15 381.7v2.7M374.76 381.7v2.7M378.87 381.7v2.7M380.95 381.7v2.7M382.43 381.7v2.7M383.58 381.7v2.7M384.52 381.7v2.7M385.31 381.7v2.7M386 381.7v2.7M386.61 381.7v2.7" stroke="#333" stroke-width="0.7" fill="none"/>
<text x="315.3" y="393" text-anchor="middle" font-size="8" >0</text>
<text x="325.5" y="393" text-anchor="middle" font-size="8" >–9</text>
<text x="337.35" y="393" text-anchor="middle" font-size="8" >–8</text>
<text x="349.2" y="393" text-anchor="middle" font-size="8" >–7</text>
<text x="361.05" y="393" text-anchor="middle" font-size="8" >–6</text>
<text x="372.9" y="393" text-anchor="middle" font-size="8" >–5</text>
<text x="384.75" y="393" text-anchor="middle" font-size="8" >–4</text>
<text x="352" y="407.3" text-anchor="middle" font-size="9.1" >GSK1120212 log [mol/L]</text>
<text transform="translate(284.7 325.4) rotate(-90)" text-anchor="middle" font-size="9" >Viability (% control)</text>
<path d="M315.5 291.98L326.48 293.2L327.09 293.43L327.7 293.71L328.31 294.03L328.92 294.42L329.53 294.88L330.14 295.42L330.75 296.05L331.36 296.79L331.97 297.65L332.58 298.65L333.19 299.8L333.8 301.13L334.41 302.64L335.02 304.36L335.63 306.28L336.24 308.42L336.85 310.77L337.46 313.32L338.07 316.06L338.68 318.96L339.29 321.99L339.9 325.1L340.51 328.24L341.12 331.37L341.73 334.44L342.35 337.4L342.96 340.21L343.57 342.85L344.18 345.29L344.79 347.53L345.4 349.54L346.01 351.35L346.62 352.95L347.23 354.35L347.84 355.58L348.45 356.65L349.06 357.57L349.67 358.36L350.28 359.03L350.89 359.61L351.5 360.1L352.11 360.52L352.72 360.87L353.33 361.17L353.94 361.42L354.55 361.63L355.16 361.81L355.77 361.96L356.38 362.08L356.99 362.19L357.6 362.28L358.21 362.35L358.82 362.41L359.43 362.47L360.04 362.51L360.65 362.55L361.26 362.58L361.87 362.6L362.48 362.63L363.09 362.64L363.7 362.66L364.32 362.67L364.93 362.68L365.54 362.69L366.15 362.7L366.76 362.71L367.37 362.71L367.98 362.72L368.59 362.72L369.2 362.72L369.81 362.72L370.42 362.73L371.03 362.73L371.64 362.73L372.25 362.73L372.86 362.73L373.47 362.73L374.08 362.73L374.69 362.73L375.3 362.73" stroke="#111" stroke-width="1.1" fill="none" stroke-linejoin="round"/>
<path d="M315.5 287.35L375.3 295.21" stroke="#d81e3c" stroke-width="1.0" fill="none"/>
<path d="M315.5 285.5V292.9M312.8 285.5h5.4M312.8 292.9h5.4M327.9 298.45V305.85M325.2 298.45h5.4M325.2 305.85h5.4M333.82 287.35V292.9M331.12 287.35h5.4M331.12 292.9h5.4M345.67 328.97V334.52M342.97 328.97h5.4M342.97 334.52h5.4" stroke="#111" stroke-width="0.85" fill="none"/>
<g fill="#111"><circle cx="315.5" cy="289.2" r="2.45"/><circle cx="327.9" cy="302.15" r="2.45"/><circle cx="333.82" cy="290.12" r="2.45"/><circle cx="339.75" cy="348.4" r="2.45"/><circle cx="345.67" cy="331.75" r="2.45"/><circle cx="351.6" cy="361.35" r="2.45"/><circle cx="357.52" cy="358.57" r="2.45"/><circle cx="363.45" cy="364.12" r="2.45"/><circle cx="369.38" cy="360.43" r="2.45"/><circle cx="375.3" cy="364.59" r="2.45"/></g>
<path d="M327.9 285.5V294.75M325.2 285.5h5.4M325.2 294.75h5.4M333.82 285.5V296.6M331.12 285.5h5.4M331.12 296.6h5.4M339.75 289.2V296.6M337.05 289.2h5.4M337.05 296.6h5.4M345.67 290.59V296.14M342.97 290.59h5.4M342.97 296.14h5.4M351.6 290.12V297.52M348.9 290.12h5.4M348.9 297.52h5.4M357.52 291.51V297.06M354.82 291.51h5.4M354.82 297.06h5.4M363.45 291.05V296.6M360.75 291.05h5.4M360.75 296.6h5.4M369.38 288.27V297.52M366.68 288.27h5.4M366.68 297.52h5.4M375.3 292.44V299.84M372.6 292.44h5.4M372.6 299.84h5.4" stroke="#d81e3c" stroke-width="0.85" fill="none"/>
<g fill="#d81e3c"><path d="M315.5 287.52l2.6 4.5h-5.2z"/><path d="M327.9 287.52l2.6 4.5h-5.2z"/><path d="M333.82 288.45l2.6 4.5h-5.2z"/><path d="M339.75 290.3l2.6 4.5h-5.2z"/><path d="M345.67 290.76l2.6 4.5h-5.2z"/><path d="M351.6 291.22l2.6 4.5h-5.2z"/><path d="M357.52 291.69l2.6 4.5h-5.2z"/><path d="M363.45 291.22l2.6 4.5h-5.2z"/><path d="M369.38 290.3l2.6 4.5h-5.2z"/><path d="M375.3 293.54l2.6 4.5h-5.2z"/></g></g>
<g><path d="M427.1 270.4V381.7" stroke="#2a2a2a" stroke-width="0.8" fill="none"/>
<path d="M423.7 381.7H427.1M423.7 363.2H427.1M423.7 344.7H427.1M423.7 326.2H427.1M423.7 307.7H427.1M423.7 289.2H427.1M423.7 270.7H427.1" stroke="#2a2a2a" stroke-width="0.8" fill="none"/>
<text x="420.9" y="384.8" text-anchor="end" font-size="7.6">0</text>
<text x="420.9" y="366.3" text-anchor="end" font-size="7.6">20</text>
<text x="420.9" y="347.8" text-anchor="end" font-size="7.6">40</text>
<text x="420.9" y="329.3" text-anchor="end" font-size="7.6">60</text>
<text x="420.9" y="310.8" text-anchor="end" font-size="7.6">80</text>
<text x="420.9" y="292.3" text-anchor="end" font-size="7.6">100</text>
<text x="420.9" y="273.8" text-anchor="end" font-size="7.6">120</text>
<path d="M427.1 381.7H434.8M432.6 381.7v3M434.8 380.1v4.4M442.9 381.7H505.4M442.9 380.1v4.4M445.4 381.7v3M457.4 381.7v3M469.4 381.7v3M481.4 381.7v3M493.4 381.7v3M505.4 381.7v3" stroke="#2a2a2a" stroke-width="0.8" fill="none"/>
<path d="M449.01 381.7v2.7M451.13 381.7v2.7M452.62 381.7v2.7M453.79 381.7v2.7M454.74 381.7v2.7M455.54 381.7v2.7M456.24 381.7v2.7M456.85 381.7v2.7M461.01 381.7v2.7M463.13 381.7v2.7M464.62 381.7v2.7M465.79 381.7v2.7M466.74 381.7v2.7M467.54 381.7v2.7M468.24 381.7v2.7M468.85 381.7v2.7M473.01 381.7v2.7M475.13 381.7v2.7M476.62 381.7v2.7M477.79 381.7v2.7M478.74 381.7v2.7M479.54 381.7v2.7M480.24 381.7v2.7M480.85 381.7v2.7M485.01 381.7v2.7M487.13 381.7v2.7M488.62 381.7v2.7M489.79 381.7v2.7M490.74 381.7v2.7M491.54 381.7v2.7M492.24 381.7v2.7M492.85 381.7v2.7M497.01 381.7v2.7M499.13 381.7v2.7M500.62 381.7v2.7M501.79 381.7v2.7M502.74 381.7v2.7M503.54 381.7v2.7M504.24 381.7v2.7M504.85 381.7v2.7" stroke="#333" stroke-width="0.7" fill="none"/>
<text x="432.4" y="393" text-anchor="middle" font-size="8" >0</text>
<text x="443" y="393" text-anchor="middle" font-size="8" >–9</text>
<text x="455" y="393" text-anchor="middle" font-size="8" >–8</text>
<text x="467" y="393" text-anchor="middle" font-size="8" >–7</text>
<text x="479" y="393" text-anchor="middle" font-size="8" >–6</text>
<text x="491" y="393" text-anchor="middle" font-size="8" >–5</text>
<text x="503" y="393" text-anchor="middle" font-size="8" >–4</text>
<text x="472.5" y="407.3" text-anchor="middle" font-size="9.1" >SCH772984 log [mol/L]</text>
<path d="M432.6 285.5L441.6 285.5L443.96 287.8L444.58 288.14L445.2 288.54L445.81 288.98L446.43 289.49L447.05 290.07L447.67 290.73L448.29 291.48L448.9 292.32L449.52 293.27L450.14 294.35L450.76 295.55L451.38 296.89L451.99 298.39L452.61 300.04L453.23 301.86L453.85 303.86L454.47 306.03L455.08 308.38L455.7 310.9L456.32 313.58L456.94 316.41L457.56 319.37L458.17 322.44L458.79 325.59L459.41 328.79L460.03 332.01L460.65 335.23L461.26 338.39L461.88 341.49L462.5 344.48L463.12 347.34L463.74 350.06L464.35 352.63L464.97 355.02L465.59 357.24L466.21 359.28L466.83 361.15L467.44 362.84L468.06 364.38L468.68 365.76L469.3 367L469.92 368.11L470.53 369.09L471.15 369.96L471.77 370.73L472.39 371.42L473.01 372.01L473.62 372.54L474.24 373L474.86 373.41L475.48 373.76L476.1 374.07L476.71 374.34L477.33 374.58L477.95 374.78L478.57 374.96L479.19 375.12L479.8 375.25L480.42 375.37L481.04 375.47L481.66 375.56L482.28 375.64L482.89 375.71L483.51 375.77L484.13 375.82L484.75 375.86L485.37 375.9L485.98 375.93L486.6 375.96L487.22 375.99L487.84 376.01L488.46 376.03L489.07 376.04L489.69 376.06L490.31 376.07L490.93 376.08L491.55 376.09L492.16 376.1L492.78 376.1L493.4 376.11" stroke="#111" stroke-width="1.1" fill="none" stroke-linejoin="round"/>
<path d="M432.6 291.05L434.1 293.82L436.6 294.75L441.6 295.21L443.96 297.61L444.58 298.03L445.2 298.51L445.81 299.05L446.43 299.67L447.05 300.38L447.67 301.17L448.29 302.07L448.9 303.08L449.52 304.22L450.14 305.48L450.76 306.89L451.38 308.45L451.99 310.17L452.61 312.06L453.23 314.11L453.85 316.33L454.47 318.71L455.08 321.24L455.7 323.92L456.32 326.72L456.94 329.63L457.56 332.62L458.17 335.65L458.79 338.71L459.41 341.76L460.03 344.77L460.65 347.71L461.26 350.56L461.88 353.28L462.5 355.87L463.12 358.31L463.74 360.59L464.35 362.71L464.97 364.66L465.59 366.44L466.21 368.06L466.83 369.52L467.44 370.84L468.06 372.03L468.68 373.08L469.3 374.02L469.92 374.86L470.53 375.6L471.15 376.25L471.77 376.82L472.39 377.32L473.01 377.77L473.62 378.15L474.24 378.49L474.86 378.79L475.48 379.05L476.1 379.27L476.71 379.47L477.33 379.64L477.95 379.79L478.57 379.92L479.19 380.03L479.8 380.13L480.42 380.21L481.04 380.29L481.66 380.35L482.28 380.41L482.89 380.46L483.51 380.5L484.13 380.53L484.75 380.57L485.37 380.59L485.98 380.62L486.6 380.64L487.22 380.66L487.84 380.67L488.46 380.69L489.07 380.7L489.69 380.71L490.31 380.72L490.93 380.72L491.55 380.73L492.16 380.74L492.78 380.74L493.4 380.75" stroke="#d81e3c" stroke-width="1.0" fill="none" stroke-linejoin="round"/>
<path d="M432.6 285.5V292.9M429.9 285.5h5.4M429.9 292.9h5.4M445.4 277.17V282.73M442.7 277.17h5.4M442.7 282.73h5.4" stroke="#111" stroke-width="0.85" fill="none"/>
<g fill="#111"><circle cx="432.6" cy="289.2" r="2.45"/><circle cx="445.4" cy="279.95" r="2.45"/><circle cx="451.4" cy="304.92" r="2.45"/><circle cx="457.4" cy="320.65" r="2.45"/><circle cx="463.4" cy="346.55" r="2.45"/><circle cx="469.4" cy="365.97" r="2.45"/><circle cx="475.4" cy="371.99" r="2.45"/></g>
<g fill="#d81e3c"><path d="M432.6 287.52l2.6 4.5h-5.2z"/><path d="M445.4 298.62l2.6 4.5h-5.2z"/><path d="M451.4 312.5l2.6 4.5h-5.2z"/><path d="M457.4 327.3l2.6 4.5h-5.2z"/><path d="M463.4 356.9l2.6 4.5h-5.2z"/><path d="M469.4 371.7l2.6 4.5h-5.2z"/><path d="M475.4 373.55l2.6 4.5h-5.2z"/><path d="M481.4 374.47l2.6 4.5h-5.2z"/><path d="M487.4 375.4l2.6 4.5h-5.2z"/><path d="M493.4 378.17l2.6 4.5h-5.2z"/></g></g>
<path d="M87 430.7h11" stroke="#111" stroke-width="0.9"/><circle cx="92.5" cy="430.7" r="2.45" fill="#111"/><text x="102" y="433.9" font-size="9" >A375 + RFP</text>
<path d="M87 441.7h11" stroke="#d81e3c" stroke-width="0.9"/><path d="M92.5 439.2l2.2 3.9h-4.4z" fill="#d81e3c"/><text x="102" y="444.9" font-size="9" >A375 + <tspan font-style="italic">KRAS</tspan><tspan dy="-3.2" font-size="7">G13D</tspan></text>
<g><path d="M44.4 455.7V566.6" stroke="#2a2a2a" stroke-width="0.8" fill="none"/>
<path d="M41 566.6H44.4M41 548.17H44.4M41 529.73H44.4M41 511.3H44.4M41 492.87H44.4M41 474.43H44.4M41 456H44.4" stroke="#2a2a2a" stroke-width="0.8" fill="none"/>
<text x="38.2" y="569.7" text-anchor="end" font-size="7.6">0</text>
<text x="38.2" y="551.27" text-anchor="end" font-size="7.6">20</text>
<text x="38.2" y="532.83" text-anchor="end" font-size="7.6">40</text>
<text x="38.2" y="514.4" text-anchor="end" font-size="7.6">60</text>
<text x="38.2" y="495.97" text-anchor="end" font-size="7.6">80</text>
<text x="38.2" y="477.53" text-anchor="end" font-size="7.6">100</text>
<text x="38.2" y="459.1" text-anchor="end" font-size="7.6">120</text>
<path d="M44.4 566.6H51.4M49.2 566.6v3M51.4 565v4.4M59.6 566.6H121.35M59.6 565v4.4M62.1 566.6v3M73.95 566.6v3M85.8 566.6v3M97.65 566.6v3M109.5 566.6v3M121.35 566.6v3" stroke="#2a2a2a" stroke-width="0.8" fill="none"/>
<path d="M65.67 566.6v2.7M67.75 566.6v2.7M69.23 566.6v2.7M70.38 566.6v2.7M71.32 566.6v2.7M72.11 566.6v2.7M72.8 566.6v2.7M73.41 566.6v2.7M77.52 566.6v2.7M79.6 566.6v2.7M81.08 566.6v2.7M82.23 566.6v2.7M83.17 566.6v2.7M83.96 566.6v2.7M84.65 566.6v2.7M85.26 566.6v2.7M89.37 566.6v2.7M91.45 566.6v2.7M92.93 566.6v2.7M94.08 566.6v2.7M95.02 566.6v2.7M95.81 566.6v2.7M96.5 566.6v2.7M97.11 566.6v2.7M101.22 566.6v2.7M103.3 566.6v2.7M104.78 566.6v2.7M105.93 566.6v2.7M106.87 566.6v2.7M107.66 566.6v2.7M108.35 566.6v2.7M108.96 566.6v2.7M113.07 566.6v2.7M115.15 566.6v2.7M116.63 566.6v2.7M117.78 566.6v2.7M118.72 566.6v2.7M119.51 566.6v2.7M120.2 566.6v2.7M120.81 566.6v2.7" stroke="#333" stroke-width="0.7" fill="none"/>
<text x="49" y="577.9" text-anchor="middle" font-size="8" >0</text>
<text x="59.7" y="577.9" text-anchor="middle" font-size="8" >–9</text>
<text x="71.55" y="577.9" text-anchor="middle" font-size="8" >–8</text>
<text x="83.4" y="577.9" text-anchor="middle" font-size="8" >–7</text>
<text x="95.25" y="577.9" text-anchor="middle" font-size="8" >–6</text>
<text x="107.1" y="577.9" text-anchor="middle" font-size="8" >–5</text>
<text x="118.95" y="577.9" text-anchor="middle" font-size="8" >–4</text>
<text x="84.8" y="591.4" text-anchor="middle" font-size="9.1" >PLX4032 log [mol/L]</text>
<text transform="translate(20.1 510.5) rotate(-90)" text-anchor="middle" font-size="9" >Viability (% control)</text>
<path d="M49.2 474.43L60.68 474.68L61.29 474.71L61.9 474.75L62.51 474.8L63.12 474.85L63.73 474.9L64.34 474.97L64.95 475.04L65.56 475.13L66.17 475.22L66.78 475.33L67.39 475.45L68 475.59L68.61 475.75L69.22 475.93L69.83 476.14L70.44 476.37L71.05 476.63L71.66 476.93L72.27 477.27L72.88 477.65L73.49 478.08L74.1 478.56L74.71 479.1L75.32 479.72L75.93 480.4L76.55 481.17L77.16 482.03L77.77 482.98L78.38 484.04L78.99 485.22L79.6 486.51L80.21 487.93L80.82 489.49L81.43 491.19L82.04 493.03L82.65 495.01L83.26 497.13L83.87 499.39L84.48 501.79L85.09 504.3L85.7 506.91L86.31 509.62L86.92 512.4L87.53 515.22L88.14 518.07L88.75 520.93L89.36 523.75L89.97 526.54L90.58 529.25L91.19 531.88L91.8 534.4L92.41 536.8L93.02 539.08L93.63 541.22L94.24 543.21L94.85 545.06L95.46 546.77L96.07 548.35L96.68 549.78L97.29 551.09L97.9 552.27L98.52 553.35L99.13 554.31L99.74 555.18L100.35 555.95L100.96 556.65L101.57 557.26L102.18 557.81L102.79 558.3L103.4 558.74L104.01 559.12L104.62 559.46L105.23 559.76L105.84 560.03L106.45 560.27L107.06 560.47L107.67 560.66L108.28 560.82L108.89 560.96L109.5 561.08" stroke="#111" stroke-width="1.1" fill="none" stroke-linejoin="round"/>
<path d="M49.2 474.43L109.5 482.27" stroke="#d81e3c" stroke-width="1.0" fill="none"/>
<path d="M85.8 509V521.9M83.1 509h5.4M83.1 521.9h5.4M91.72 514.07V532.5M89.02 514.07h5.4M89.02 532.5h5.4" stroke="#111" stroke-width="0.85" fill="none"/>
<g fill="#111"><circle cx="49.2" cy="474.43" r="2.45"/><circle cx="62.1" cy="474.43" r="2.45"/><circle cx="68.03" cy="476.28" r="2.45"/><circle cx="73.95" cy="478.58" r="2.45"/><circle cx="79.88" cy="486.42" r="2.45"/><circle cx="85.8" cy="515.45" r="2.45"/><circle cx="91.72" cy="523.28" r="2.45"/><circle cx="97.65" cy="554.62" r="2.45"/><circle cx="103.58" cy="555.54" r="2.45"/><circle cx="109.5" cy="558.77" r="2.45"/></g>
<path d="M68.03 471.67V479.04M65.33 471.67h5.4M65.33 479.04h5.4M97.65 479.04V486.42M94.95 479.04h5.4M94.95 486.42h5.4M103.58 472.59V481.81M100.88 472.59h5.4M100.88 481.81h5.4M109.5 479.96V491.02M106.8 479.96h5.4M106.8 491.02h5.4" stroke="#d81e3c" stroke-width="0.85" fill="none"/>
<g fill="#d81e3c"><path d="M49.2 472.75l2.6 4.5h-5.2z"/><path d="M62.1 474.6l2.6 4.5h-5.2z"/><path d="M68.03 472.75l2.6 4.5h-5.2z"/><path d="M73.95 481.05l2.6 4.5h-5.2z"/><path d="M79.88 468.15l2.6 4.5h-5.2z"/><path d="M85.8 488.42l2.6 4.5h-5.2z"/><path d="M91.72 473.68l2.6 4.5h-5.2z"/><path d="M97.65 480.13l2.6 4.5h-5.2z"/><path d="M103.58 474.6l2.6 4.5h-5.2z"/><path d="M109.5 482.89l2.6 4.5h-5.2z"/></g></g>
<g><path d="M162.5 455.3V566.5" stroke="#2a2a2a" stroke-width="0.8" fill="none"/>
<path d="M159.1 566.5H162.5M159.1 548.02H162.5M159.1 529.53H162.5M159.1 511.05H162.5M159.1 492.57H162.5M159.1 474.08H162.5M159.1 455.6H162.5" stroke="#2a2a2a" stroke-width="0.8" fill="none"/>
<text x="156.3" y="569.6" text-anchor="end" font-size="7.6">0</text>
<text x="156.3" y="551.12" text-anchor="end" font-size="7.6">20</text>
<text x="156.3" y="532.63" text-anchor="end" font-size="7.6">40</text>
<text x="156.3" y="514.15" text-anchor="end" font-size="7.6">60</text>
<text x="156.3" y="495.67" text-anchor="end" font-size="7.6">80</text>
<text x="156.3" y="477.18" text-anchor="end" font-size="7.6">100</text>
<text x="156.3" y="458.7" text-anchor="end" font-size="7.6">120</text>
<path d="M162.5 566.5H169.2M167 566.5v3M169.2 564.9v4.4M176.7 566.5H239.2M176.7 564.9v4.4M179.2 566.5v3M191.2 566.5v3M203.2 566.5v3M215.2 566.5v3M227.2 566.5v3M239.2 566.5v3" stroke="#2a2a2a" stroke-width="0.8" fill="none"/>
<path d="M182.81 566.5v2.7M184.93 566.5v2.7M186.42 566.5v2.7M187.59 566.5v2.7M188.54 566.5v2.7M189.34 566.5v2.7M190.04 566.5v2.7M190.65 566.5v2.7M194.81 566.5v2.7M196.93 566.5v2.7M198.42 566.5v2.7M199.59 566.5v2.7M200.54 566.5v2.7M201.34 566.5v2.7M202.04 566.5v2.7M202.65 566.5v2.7M206.81 566.5v2.7M208.93 566.5v2.7M210.42 566.5v2.7M211.59 566.5v2.7M212.54 566.5v2.7M213.34 566.5v2.7M214.04 566.5v2.7M214.65 566.5v2.7M218.81 566.5v2.7M220.93 566.5v2.7M222.42 566.5v2.7M223.59 566.5v2.7M224.54 566.5v2.7M225.34 566.5v2.7M226.04 566.5v2.7M226.65 566.5v2.7M230.81 566.5v2.7M232.93 566.5v2.7M234.42 566.5v2.7M235.59 566.5v2.7M236.54 566.5v2.7M237.34 566.5v2.7M238.04 566.5v2.7M238.65 566.5v2.7" stroke="#333" stroke-width="0.7" fill="none"/>
<text x="166.8" y="577.8" text-anchor="middle" font-size="8" >0</text>
<text x="176.8" y="577.8" text-anchor="middle" font-size="8" >–9</text>
<text x="188.8" y="577.8" text-anchor="middle" font-size="8" >–8</text>
<text x="200.8" y="577.8" text-anchor="middle" font-size="8" >–7</text>
<text x="212.8" y="577.8" text-anchor="middle" font-size="8" >–6</text>
<text x="224.8" y="577.8" text-anchor="middle" font-size="8" >–5</text>
<text x="236.8" y="577.8" text-anchor="middle" font-size="8" >–4</text>
<text x="206" y="591.3" text-anchor="middle" font-size="9.1" >SCH772984 log [mol/L]</text>
<path d="M167 473.62L177.76 476.53L178.38 476.99L179 477.53L179.61 478.15L180.23 478.85L180.85 479.67L181.47 480.59L182.09 481.64L182.7 482.84L183.32 484.19L183.94 485.7L184.56 487.39L185.18 489.27L185.79 491.34L186.41 493.6L187.03 496.06L187.65 498.71L188.27 501.54L188.88 504.52L189.5 507.63L190.12 510.84L190.74 514.12L191.36 517.43L191.97 520.73L192.59 523.98L193.21 527.15L193.83 530.2L194.45 533.1L195.06 535.84L195.68 538.39L196.3 540.76L196.92 542.92L197.54 544.9L198.15 546.68L198.77 548.28L199.39 549.71L200.01 550.97L200.63 552.09L201.24 553.08L201.86 553.95L202.48 554.71L203.1 555.37L203.72 555.94L204.33 556.44L204.95 556.87L205.57 557.25L206.19 557.57L206.81 557.85L207.42 558.09L208.04 558.3L208.66 558.48L209.28 558.63L209.9 558.77L210.51 558.88L211.13 558.98L211.75 559.06L212.37 559.13L212.99 559.2L213.6 559.25L214.22 559.29L214.84 559.33L215.46 559.37L216.08 559.4L216.69 559.42L217.31 559.44L217.93 559.46L218.55 559.48L219.17 559.49L219.78 559.5L220.4 559.51L221.02 559.52L221.64 559.53L222.26 559.53L222.87 559.54L223.49 559.54L224.11 559.55L224.73 559.55L225.35 559.55L225.96 559.55L226.58 559.56L227.2 559.56" stroke="#111" stroke-width="1.1" fill="none" stroke-linejoin="round"/>
<path d="M167 462.07L169 462.99L171 464.38L174 463.92L177.76 465.59L178.38 465.84L179 466.13L179.61 466.46L180.23 466.83L180.85 467.26L181.47 467.75L182.09 468.31L182.7 468.95L183.32 469.67L183.94 470.49L184.56 471.42L185.18 472.47L185.79 473.64L186.41 474.96L187.03 476.43L187.65 478.06L188.27 479.86L188.88 481.85L189.5 484.01L190.12 486.37L190.74 488.91L191.36 491.63L191.97 494.52L192.59 497.56L193.21 500.73L193.83 504.01L194.45 507.37L195.06 510.78L195.68 514.2L196.3 517.59L196.92 520.93L197.54 524.18L198.15 527.32L198.77 530.32L199.39 533.16L200.01 535.82L200.63 538.31L201.24 540.61L201.86 542.72L202.48 544.65L203.1 546.4L203.72 547.98L204.33 549.4L204.95 550.67L205.57 551.81L206.19 552.82L206.81 553.71L207.42 554.5L208.04 555.2L208.66 555.81L209.28 556.35L209.9 556.82L210.51 557.23L211.13 557.6L211.75 557.91L212.37 558.19L212.99 558.43L213.6 558.64L214.22 558.82L214.84 558.98L215.46 559.12L216.08 559.24L216.69 559.34L217.31 559.43L217.93 559.51L218.55 559.58L219.17 559.64L219.78 559.69L220.4 559.74L221.02 559.78L221.64 559.81L222.26 559.84L222.87 559.86L223.49 559.89L224.11 559.91L224.73 559.92L225.35 559.94L225.96 559.95L226.58 559.96L227.2 559.97" stroke="#d81e3c" stroke-width="1.0" fill="none" stroke-linejoin="round"/>
<path d="M167 469.46V478.7M164.3 469.46h5.4M164.3 478.7h5.4M185.2 483.79V493.03M182.5 483.79h5.4M182.5 493.03h5.4M197.2 540.16V545.71M194.5 540.16h5.4M194.5 545.71h5.4" stroke="#111" stroke-width="0.85" fill="none"/>
<g fill="#111"><circle cx="167" cy="474.08" r="2.45"/><circle cx="179.2" cy="475.93" r="2.45"/><circle cx="185.2" cy="488.41" r="2.45"/><circle cx="191.2" cy="519.37" r="2.45"/><circle cx="197.2" cy="542.93" r="2.45"/><circle cx="203.2" cy="556.33" r="2.45"/><circle cx="209.2" cy="558.64" r="2.45"/><circle cx="215.2" cy="559.57" r="2.45"/><circle cx="221.2" cy="558.64" r="2.45"/><circle cx="227.2" cy="559.57" r="2.45"/></g>
<path d="M179.2 456.99V462.53M176.5 456.99h5.4M176.5 462.53h5.4M185.2 462.07V465.77M182.5 462.07h5.4M182.5 465.77h5.4M197.2 524.91V530.46M194.5 524.91h5.4M194.5 530.46h5.4" stroke="#d81e3c" stroke-width="0.85" fill="none"/>
<g fill="#d81e3c"><path d="M167 471.48l2.6 4.5h-5.2z"/><path d="M179.2 457.16l2.6 4.5h-5.2z"/><path d="M185.2 461.32l2.6 4.5h-5.2z"/><path d="M191.2 492.74l2.6 4.5h-5.2z"/><path d="M197.2 525.09l2.6 4.5h-5.2z"/><path d="M203.2 543.57l2.6 4.5h-5.2z"/><path d="M209.2 548.19l2.6 4.5h-5.2z"/><path d="M215.2 553.73l2.6 4.5h-5.2z"/><path d="M221.2 555.58l2.6 4.5h-5.2z"/><path d="M227.2 563.9l2.6 4.5h-5.2z"/></g></g>
<path d="M344.8 430.7h11" stroke="#111" stroke-width="0.9"/><circle cx="350.3" cy="430.7" r="2.45" fill="#111"/><text x="359.8" y="433.9" font-size="9" >A375 + RFP</text>
<path d="M344.8 441.7h11" stroke="#d81e3c" stroke-width="0.9"/><path d="M350.3 439.2l2.2 3.9h-4.4z" fill="#d81e3c"/><text x="359.8" y="444.9" font-size="9" >A375 + <tspan font-style="italic">BRAF</tspan><tspan dy="-3.2" font-size="7">V600E</tspan></text>
<g><path d="M310.2 455.4V566.5" stroke="#2a2a2a" stroke-width="0.8" fill="none"/>
<path d="M306.8 566.5H310.2M306.8 548.03H310.2M306.8 529.57H310.2M306.8 511.1H310.2M306.8 492.63H310.2M306.8 474.17H310.2M306.8 455.7H310.2" stroke="#2a2a2a" stroke-width="0.8" fill="none"/>
<text x="304" y="569.6" text-anchor="end" font-size="7.6">0</text>
<text x="304" y="551.13" text-anchor="end" font-size="7.6">20</text>
<text x="304" y="532.67" text-anchor="end" font-size="7.6">40</text>
<text x="304" y="514.2" text-anchor="end" font-size="7.6">60</text>
<text x="304" y="495.73" text-anchor="end" font-size="7.6">80</text>
<text x="304" y="477.27" text-anchor="end" font-size="7.6">100</text>
<text x="304" y="458.8" text-anchor="end" font-size="7.6">120</text>
<path d="M310.2 566.5H317.8M315.6 566.5v3M317.8 564.9v4.4M325.5 566.5H388M325.5 564.9v4.4M328 566.5v3M340 566.5v3M352 566.5v3M364 566.5v3M376 566.5v3M388 566.5v3" stroke="#2a2a2a" stroke-width="0.8" fill="none"/>
<path d="M331.61 566.5v2.7M333.73 566.5v2.7M335.22 566.5v2.7M336.39 566.5v2.7M337.34 566.5v2.7M338.14 566.5v2.7M338.84 566.5v2.7M339.45 566.5v2.7M343.61 566.5v2.7M345.73 566.5v2.7M347.22 566.5v2.7M348.39 566.5v2.7M349.34 566.5v2.7M350.14 566.5v2.7M350.84 566.5v2.7M351.45 566.5v2.7M355.61 566.5v2.7M357.73 566.5v2.7M359.22 566.5v2.7M360.39 566.5v2.7M361.34 566.5v2.7M362.14 566.5v2.7M362.84 566.5v2.7M363.45 566.5v2.7M367.61 566.5v2.7M369.73 566.5v2.7M371.22 566.5v2.7M372.39 566.5v2.7M373.34 566.5v2.7M374.14 566.5v2.7M374.84 566.5v2.7M375.45 566.5v2.7M379.61 566.5v2.7M381.73 566.5v2.7M383.22 566.5v2.7M384.39 566.5v2.7M385.34 566.5v2.7M386.14 566.5v2.7M386.84 566.5v2.7M387.45 566.5v2.7" stroke="#333" stroke-width="0.7" fill="none"/>
<text x="315.4" y="577.8" text-anchor="middle" font-size="8" >0</text>
<text x="325.6" y="577.8" text-anchor="middle" font-size="8" >–9</text>
<text x="337.6" y="577.8" text-anchor="middle" font-size="8" >–8</text>
<text x="349.6" y="577.8" text-anchor="middle" font-size="8" >–7</text>
<text x="361.6" y="577.8" text-anchor="middle" font-size="8" >–6</text>
<text x="373.6" y="577.8" text-anchor="middle" font-size="8" >–5</text>
<text x="385.6" y="577.8" text-anchor="middle" font-size="8" >–4</text>
<text x="345.8" y="591.3" text-anchor="middle" font-size="9.1" >PLX4032 log [mol/L]</text>
<text transform="translate(285.6 510.3) rotate(-90)" text-anchor="middle" font-size="9" >Viability (% control)</text>
<path d="M315.6 479.71L326.56 480.02L327.18 480.07L327.8 480.12L328.41 480.18L329.03 480.26L329.65 480.34L330.27 480.44L330.89 480.55L331.5 480.67L332.12 480.82L332.74 480.99L333.36 481.18L333.98 481.4L334.59 481.65L335.21 481.94L335.83 482.27L336.45 482.65L337.07 483.08L337.68 483.57L338.3 484.13L338.92 484.77L339.54 485.49L340.16 486.3L340.77 487.22L341.39 488.25L342.01 489.41L342.63 490.69L343.25 492.12L343.86 493.7L344.48 495.43L345.1 497.33L345.72 499.39L346.34 501.6L346.95 503.97L347.57 506.49L348.19 509.13L348.81 511.89L349.43 514.74L350.04 517.65L350.66 520.6L351.28 523.55L351.9 526.48L352.52 529.36L353.13 532.16L353.75 534.86L354.37 537.43L354.99 539.87L355.61 542.16L356.22 544.28L356.84 546.25L357.46 548.06L358.08 549.71L358.7 551.2L359.31 552.55L359.93 553.76L360.55 554.85L361.17 555.81L361.79 556.67L362.4 557.43L363.02 558.11L363.64 558.7L364.26 559.22L364.88 559.68L365.49 560.08L366.11 560.43L366.73 560.74L367.35 561.01L367.97 561.24L368.58 561.45L369.2 561.62L369.82 561.78L370.44 561.91L371.06 562.03L371.67 562.13L372.29 562.22L372.91 562.3L373.53 562.37L374.15 562.42L374.76 562.47L375.38 562.52L376 562.56" stroke="#111" stroke-width="1.1" fill="none" stroke-linejoin="round"/>
<path d="M315.6 473.24L326.56 473.24L327.18 473.24L327.8 473.24L328.41 473.24L329.03 473.24L329.65 473.24L330.27 473.24L330.89 473.24L331.5 473.24L332.12 473.24L332.74 473.24L333.36 473.24L333.98 473.24L334.59 473.24L335.21 473.24L335.83 473.24L336.45 473.25L337.07 473.25L337.68 473.25L338.3 473.25L338.92 473.25L339.54 473.25L340.16 473.25L340.77 473.25L341.39 473.25L342.01 473.25L342.63 473.25L343.25 473.25L343.86 473.26L344.48 473.26L345.1 473.26L345.72 473.26L346.34 473.27L346.95 473.27L347.57 473.27L348.19 473.28L348.81 473.28L349.43 473.29L350.04 473.3L350.66 473.31L351.28 473.32L351.9 473.33L352.52 473.35L353.13 473.36L353.75 473.38L354.37 473.41L354.99 473.43L355.61 473.46L356.22 473.5L356.84 473.54L357.46 473.59L358.08 473.65L358.7 473.72L359.31 473.8L359.93 473.89L360.55 474L361.17 474.12L361.79 474.26L362.4 474.43L363.02 474.63L363.64 474.85L364.26 475.12L364.88 475.42L365.49 475.78L366.11 476.18L366.73 476.66L367.35 477.2L367.97 477.83L368.58 478.55L369.2 479.38L369.82 480.32L370.44 481.4L371.06 482.62L371.67 484L372.29 485.56L372.91 487.3L373.53 489.24L374.15 491.39L374.76 493.75L375.38 496.32L376 499.1" stroke="#d81e3c" stroke-width="1.0" fill="none" stroke-linejoin="round"/>
<g fill="#111"><circle cx="315.6" cy="478.78" r="2.45"/><circle cx="328" cy="482.01" r="2.45"/><circle cx="334" cy="483.86" r="2.45"/><circle cx="340" cy="493.56" r="2.45"/><circle cx="346" cy="497.25" r="2.45"/><circle cx="352" cy="530.95" r="2.45"/><circle cx="358" cy="548.03" r="2.45"/><circle cx="364" cy="555.88" r="2.45"/><circle cx="370" cy="559.11" r="2.45"/><circle cx="376" cy="560.96" r="2.45"/></g>
<path d="M315.6 470.47V479.71M312.9 470.47h5.4M312.9 479.71h5.4M328 461.24V472.32M325.3 461.24h5.4M325.3 472.32h5.4M334 464.93V476.01M331.3 464.93h5.4M331.3 476.01h5.4M340 469.55V482.48M337.3 469.55h5.4M337.3 482.48h5.4M346 470.47V479.71M343.3 470.47h5.4M343.3 479.71h5.4M352 464.93V479.71M349.3 464.93h5.4M349.3 479.71h5.4M358 478.78V493.56M355.3 478.78h5.4M355.3 493.56h5.4M364 474.17V487.09M361.3 474.17h5.4M361.3 487.09h5.4M370 475.09V489.86M367.3 475.09h5.4M367.3 489.86h5.4M376 498.17V505.56M373.3 498.17h5.4M373.3 505.56h5.4" stroke="#d81e3c" stroke-width="0.85" fill="none"/>
<g fill="#d81e3c"><path d="M315.6 472.49l2.6 4.5h-5.2z"/><path d="M328 464.18l2.6 4.5h-5.2z"/><path d="M334 467.87l2.6 4.5h-5.2z"/><path d="M340 473.41l2.6 4.5h-5.2z"/><path d="M346 472.49l2.6 4.5h-5.2z"/><path d="M352 469.72l2.6 4.5h-5.2z"/><path d="M358 483.57l2.6 4.5h-5.2z"/><path d="M364 478.03l2.6 4.5h-5.2z"/><path d="M370 479.88l2.6 4.5h-5.2z"/><path d="M376 499.27l2.6 4.5h-5.2z"/></g></g>
<g><path d="M428 455.7V566.5" stroke="#2a2a2a" stroke-width="0.8" fill="none"/>
<path d="M424.6 566.5H428M424.6 550.71H428M424.6 534.93H428M424.6 519.14H428M424.6 503.36H428M424.6 487.57H428M424.6 471.79H428M424.6 456H428" stroke="#2a2a2a" stroke-width="0.8" fill="none"/>
<text x="421.8" y="569.6" text-anchor="end" font-size="7.6">0</text>
<text x="421.8" y="553.81" text-anchor="end" font-size="7.6">20</text>
<text x="421.8" y="538.03" text-anchor="end" font-size="7.6">40</text>
<text x="421.8" y="522.24" text-anchor="end" font-size="7.6">60</text>
<text x="421.8" y="506.46" text-anchor="end" font-size="7.6">80</text>
<text x="421.8" y="490.67" text-anchor="end" font-size="7.6">100</text>
<text x="421.8" y="474.89" text-anchor="end" font-size="7.6">120</text>
<text x="421.8" y="459.1" text-anchor="end" font-size="7.6">140</text>
<path d="M428 566.5H435.5M433.3 566.5v3M435.5 564.9v4.4M443.5 566.5H506.5M443.5 564.9v4.4M446 566.5v3M458.1 566.5v3M470.2 566.5v3M482.3 566.5v3M494.4 566.5v3M506.5 566.5v3" stroke="#2a2a2a" stroke-width="0.8" fill="none"/>
<path d="M449.64 566.5v2.7M451.77 566.5v2.7M453.28 566.5v2.7M454.46 566.5v2.7M455.42 566.5v2.7M456.23 566.5v2.7M456.93 566.5v2.7M457.55 566.5v2.7M461.74 566.5v2.7M463.87 566.5v2.7M465.38 566.5v2.7M466.56 566.5v2.7M467.52 566.5v2.7M468.33 566.5v2.7M469.03 566.5v2.7M469.65 566.5v2.7M473.84 566.5v2.7M475.97 566.5v2.7M477.48 566.5v2.7M478.66 566.5v2.7M479.62 566.5v2.7M480.43 566.5v2.7M481.13 566.5v2.7M481.75 566.5v2.7M485.94 566.5v2.7M488.07 566.5v2.7M489.58 566.5v2.7M490.76 566.5v2.7M491.72 566.5v2.7M492.53 566.5v2.7M493.23 566.5v2.7M493.85 566.5v2.7M498.04 566.5v2.7M500.17 566.5v2.7M501.68 566.5v2.7M502.86 566.5v2.7M503.82 566.5v2.7M504.63 566.5v2.7M505.33 566.5v2.7M505.95 566.5v2.7" stroke="#333" stroke-width="0.7" fill="none"/>
<text x="433.1" y="577.8" text-anchor="middle" font-size="8" >0</text>
<text x="443.6" y="577.8" text-anchor="middle" font-size="8" >–9</text>
<text x="455.7" y="577.8" text-anchor="middle" font-size="8" >–8</text>
<text x="467.8" y="577.8" text-anchor="middle" font-size="8" >–7</text>
<text x="479.9" y="577.8" text-anchor="middle" font-size="8" >–6</text>
<text x="492" y="577.8" text-anchor="middle" font-size="8" >–5</text>
<text x="504.1" y="577.8" text-anchor="middle" font-size="8" >–4</text>
<text x="468.3" y="591.3" text-anchor="middle" font-size="9.1" >SCH772984 log [mol/L]</text>
<path d="M433.3 487.57L435.3 493.1L439.3 493.89L444.55 501.68L445.17 502.71L445.79 503.87L446.42 505.16L447.04 506.6L447.66 508.19L448.29 509.94L448.91 511.83L449.53 513.88L450.16 516.06L450.78 518.38L451.4 520.8L452.03 523.31L452.65 525.87L453.27 528.47L453.9 531.06L454.52 533.63L455.14 536.13L455.76 538.55L456.39 540.86L457.01 543.04L457.63 545.08L458.26 546.97L458.88 548.71L459.5 550.29L460.13 551.72L460.75 553.01L461.37 554.16L462 555.19L462.62 556.09L463.24 556.89L463.87 557.6L464.49 558.21L465.11 558.74L465.74 559.21L466.36 559.62L466.98 559.97L467.6 560.27L468.23 560.54L468.85 560.76L469.47 560.96L470.1 561.13L470.72 561.27L471.34 561.4L471.97 561.51L472.59 561.6L473.21 561.68L473.84 561.75L474.46 561.8L475.08 561.86L475.71 561.9L476.33 561.94L476.95 561.97L477.57 561.99L478.2 562.02L478.82 562.04L479.44 562.06L480.07 562.07L480.69 562.08L481.31 562.09L481.94 562.1L482.56 562.11L483.18 562.12L483.81 562.12L484.43 562.13L485.05 562.13L485.68 562.14L486.3 562.14L486.92 562.14L487.55 562.14L488.17 562.15L488.79 562.15L489.41 562.15L490.04 562.15L490.66 562.15L491.28 562.15L491.91 562.15L492.53 562.15L493.15 562.16L493.78 562.16L494.4 562.16" stroke="#111" stroke-width="1.1" fill="none" stroke-linejoin="round"/>
<path d="M433.3 474.94L444.55 475.54L445.17 475.64L445.79 475.75L446.42 475.89L447.04 476.04L447.66 476.22L448.29 476.43L448.91 476.68L449.53 476.96L450.16 477.29L450.78 477.67L451.4 478.11L452.03 478.61L452.65 479.19L453.27 479.86L453.9 480.63L454.52 481.51L455.14 482.51L455.76 483.65L456.39 484.94L457.01 486.39L457.63 488.02L458.26 489.83L458.88 491.84L459.5 494.06L460.13 496.47L460.75 499.09L461.37 501.9L462 504.88L462.62 508.02L463.24 511.29L463.87 514.65L464.49 518.07L465.11 521.51L465.74 524.92L466.36 528.27L466.98 531.52L467.6 534.64L468.23 537.6L468.85 540.38L469.47 542.97L470.1 545.35L470.72 547.54L471.34 549.52L471.97 551.31L472.59 552.91L473.21 554.34L473.84 555.6L474.46 556.72L475.08 557.7L475.71 558.56L476.33 559.32L476.95 559.97L477.57 560.54L478.2 561.04L478.82 561.47L479.44 561.84L480.07 562.16L480.69 562.43L481.31 562.67L481.94 562.88L482.56 563.06L483.18 563.21L483.81 563.34L484.43 563.45L485.05 563.55L485.68 563.63L486.3 563.7L486.92 563.76L487.55 563.82L488.17 563.86L488.79 563.9L489.41 563.93L490.04 563.96L490.66 563.99L491.28 564.01L491.91 564.02L492.53 564.04L493.15 564.05L493.78 564.06L494.4 564.07" stroke="#d81e3c" stroke-width="1.0" fill="none" stroke-linejoin="round"/>
<path d="M452.05 519.54V524.27M449.35 519.54h5.4M449.35 524.27h5.4" stroke="#111" stroke-width="0.85" fill="none"/>
<g fill="#111"><circle cx="433.3" cy="487.57" r="2.45"/><circle cx="446" cy="498.23" r="2.45"/><circle cx="452.05" cy="521.91" r="2.45"/><circle cx="458.1" cy="545.58" r="2.45"/><circle cx="464.15" cy="556.63" r="2.45"/><circle cx="470.2" cy="560.98" r="2.45"/><circle cx="476.25" cy="562.16" r="2.45"/><circle cx="482.3" cy="562.16" r="2.45"/><circle cx="488.35" cy="561.76" r="2.45"/><circle cx="494.4" cy="561.76" r="2.45"/></g>
<path d="M452.05 473.36V478.1M449.35 473.36h5.4M449.35 478.1h5.4" stroke="#d81e3c" stroke-width="0.85" fill="none"/>
<g fill="#d81e3c"><path d="M433.3 485.76l2.6 4.5h-5.2z"/><path d="M446 467.61l2.6 4.5h-5.2z"/><path d="M452.05 473.13l2.6 4.5h-5.2z"/><path d="M458.1 487.34l2.6 4.5h-5.2z"/><path d="M464.15 514.96l2.6 4.5h-5.2z"/><path d="M470.2 537.85l2.6 4.5h-5.2z"/><path d="M476.25 549.69l2.6 4.5h-5.2z"/><path d="M482.3 554.43l2.6 4.5h-5.2z"/><path d="M488.35 558.38l2.6 4.5h-5.2z"/><path d="M494.4 563.9l2.6 4.5h-5.2z"/></g></g>
<path d="M74.5 616h11" stroke="#111" stroke-width="0.9"/><circle cx="80" cy="616" r="2.45" fill="#111"/><text x="89.5" y="619.2" font-size="9" >A375 + RFP</text>
<path d="M74.5 626.3h11" stroke="#d81e3c" stroke-width="0.9"/><path d="M80 623.8l2.2 3.9h-4.4z" fill="#d81e3c"/><text x="89.5" y="629.5" font-size="9" >A375 + <tspan font-style="italic">BRAF</tspan><tspan dy="-3.2" font-size="7">V600EΔ2-8</tspan></text>
<g><path d="M44.4 641.6V751.6" stroke="#2a2a2a" stroke-width="0.8" fill="none"/>
<path d="M41 751.6H44.4M41 733.32H44.4M41 715.03H44.4M41 696.75H44.4M41 678.47H44.4M41 660.18H44.4M41 641.9H44.4" stroke="#2a2a2a" stroke-width="0.8" fill="none"/>
<text x="38.2" y="754.7" text-anchor="end" font-size="7.6">0</text>
<text x="38.2" y="736.42" text-anchor="end" font-size="7.6">20</text>
<text x="38.2" y="718.13" text-anchor="end" font-size="7.6">40</text>
<text x="38.2" y="699.85" text-anchor="end" font-size="7.6">60</text>
<text x="38.2" y="681.57" text-anchor="end" font-size="7.6">80</text>
<text x="38.2" y="663.28" text-anchor="end" font-size="7.6">100</text>
<text x="38.2" y="645" text-anchor="end" font-size="7.6">120</text>
<path d="M44.4 751.6H51.4M49.2 751.6v3M51.4 750v4.4M59.6 751.6H121.35M59.6 750v4.4M62.1 751.6v3M73.95 751.6v3M85.8 751.6v3M97.65 751.6v3M109.5 751.6v3M121.35 751.6v3" stroke="#2a2a2a" stroke-width="0.8" fill="none"/>
<path d="M65.67 751.6v2.7M67.75 751.6v2.7M69.23 751.6v2.7M70.38 751.6v2.7M71.32 751.6v2.7M72.11 751.6v2.7M72.8 751.6v2.7M73.41 751.6v2.7M77.52 751.6v2.7M79.6 751.6v2.7M81.08 751.6v2.7M82.23 751.6v2.7M83.17 751.6v2.7M83.96 751.6v2.7M84.65 751.6v2.7M85.26 751.6v2.7M89.37 751.6v2.7M91.45 751.6v2.7M92.93 751.6v2.7M94.08 751.6v2.7M95.02 751.6v2.7M95.81 751.6v2.7M96.5 751.6v2.7M97.11 751.6v2.7M101.22 751.6v2.7M103.3 751.6v2.7M104.78 751.6v2.7M105.93 751.6v2.7M106.87 751.6v2.7M107.66 751.6v2.7M108.35 751.6v2.7M108.96 751.6v2.7M113.07 751.6v2.7M115.15 751.6v2.7M116.63 751.6v2.7M117.78 751.6v2.7M118.72 751.6v2.7M119.51 751.6v2.7M120.2 751.6v2.7M120.81 751.6v2.7" stroke="#333" stroke-width="0.7" fill="none"/>
<text x="49" y="763.4" text-anchor="middle" font-size="8" >0</text>
<text x="59.7" y="763.4" text-anchor="middle" font-size="8" >–9</text>
<text x="71.55" y="763.4" text-anchor="middle" font-size="8" >–8</text>
<text x="83.4" y="763.4" text-anchor="middle" font-size="8" >–7</text>
<text x="95.25" y="763.4" text-anchor="middle" font-size="8" >–6</text>
<text x="107.1" y="763.4" text-anchor="middle" font-size="8" >–5</text>
<text x="118.95" y="763.4" text-anchor="middle" font-size="8" >–4</text>
<text x="83.8" y="777.2" text-anchor="middle" font-size="9.1" >PLX4032 log [mol/L]</text>
<text transform="translate(20.1 695.95) rotate(-90)" text-anchor="middle" font-size="9" >Viability (% control)</text>
<path d="M49.2 665.67L60.68 665.99L61.29 666.04L61.9 666.09L62.51 666.16L63.12 666.23L63.73 666.32L64.34 666.41L64.95 666.53L65.56 666.66L66.17 666.8L66.78 666.98L67.39 667.17L68 667.4L68.61 667.65L69.22 667.95L69.83 668.29L70.44 668.67L71.05 669.11L71.66 669.61L72.27 670.18L72.88 670.83L73.49 671.56L74.1 672.39L74.71 673.32L75.32 674.36L75.93 675.53L76.55 676.82L77.16 678.26L77.77 679.85L78.38 681.59L78.99 683.48L79.6 685.54L80.21 687.74L80.82 690.09L81.43 692.58L82.04 695.18L82.65 697.89L83.26 700.67L83.87 703.5L84.48 706.36L85.09 709.22L85.7 712.04L86.31 714.8L86.92 717.47L87.53 720.04L88.14 722.48L88.75 724.79L89.36 726.94L89.97 728.94L90.58 730.79L91.19 732.47L91.8 734.01L92.41 735.4L93.02 736.66L93.63 737.78L94.24 738.79L94.85 739.68L95.46 740.47L96.07 741.18L96.68 741.8L97.29 742.34L97.9 742.82L98.52 743.24L99.13 743.61L99.74 743.94L100.35 744.22L100.96 744.46L101.57 744.68L102.18 744.87L102.79 745.03L103.4 745.17L104.01 745.3L104.62 745.4L105.23 745.5L105.84 745.58L106.45 745.65L107.06 745.71L107.67 745.76L108.28 745.81L108.89 745.85L109.5 745.89" stroke="#111" stroke-width="1.1" fill="none" stroke-linejoin="round"/>
<path d="M49.2 660.64L60.68 660.71L61.29 660.77L61.9 660.83L62.51 660.9L63.12 660.98L63.73 661.07L64.34 661.17L64.95 661.28L65.56 661.4L66.17 661.53L66.78 661.67L67.39 661.84L68 662.01L68.61 662.21L69.22 662.43L69.83 662.66L70.44 662.93L71.05 663.21L71.66 663.53L72.27 663.87L72.88 664.25L73.49 664.66L74.1 665.1L74.71 665.59L75.32 666.11L75.93 666.68L76.55 667.29L77.16 667.95L77.77 668.65L78.38 669.4L78.99 670.19L79.6 671.04L80.21 671.92L80.82 672.86L81.43 673.83L82.04 674.84L82.65 675.89L83.26 676.97L83.87 678.07L84.48 679.2L85.09 680.33L85.7 681.48L86.31 682.62L86.92 683.76L87.53 684.89L88.14 686L88.75 687.09L89.36 688.15L89.97 689.17L90.58 690.16L91.19 691.11L91.8 692.01L92.41 692.87L93.02 693.68L93.63 694.44L94.24 695.16L94.85 695.83L95.46 696.46L96.07 697.04L96.68 697.58L97.29 698.07L97.9 698.53L98.52 698.95L99.13 699.34L99.74 699.7L100.35 700.02L100.96 700.32L101.57 700.58L102.18 700.83L102.79 701.05L103.4 701.26L104.01 701.44L104.62 701.61L105.23 701.76L105.84 701.89L106.45 702.02L107.06 702.13L107.67 702.23L108.28 702.32L108.89 702.4L109.5 702.48" stroke="#d81e3c" stroke-width="1.0" fill="none" stroke-linejoin="round"/>
<g fill="#111"><circle cx="49.2" cy="664.3" r="2.45"/><circle cx="62.1" cy="667.5" r="2.45"/><circle cx="68.03" cy="669.33" r="2.45"/><circle cx="73.95" cy="679.38" r="2.45"/><circle cx="79.88" cy="682.12" r="2.45"/><circle cx="85.8" cy="716.4" r="2.45"/><circle cx="91.72" cy="733.32" r="2.45"/><circle cx="97.65" cy="741.09" r="2.45"/><circle cx="103.58" cy="744.29" r="2.45"/><circle cx="109.5" cy="746.12" r="2.45"/></g>
<path d="M62.1 655.61V662.93M59.4 655.61h5.4M59.4 662.93h5.4M97.65 692.18V699.49M94.95 692.18h5.4M94.95 699.49h5.4" stroke="#d81e3c" stroke-width="0.85" fill="none"/>
<g fill="#d81e3c"><path d="M49.2 657.58l2.6 4.5h-5.2z"/><path d="M62.1 656.67l2.6 4.5h-5.2z"/><path d="M68.03 663.98l2.6 4.5h-5.2z"/><path d="M73.95 663.98l2.6 4.5h-5.2z"/><path d="M79.88 668.55l2.6 4.5h-5.2z"/><path d="M85.8 683.18l2.6 4.5h-5.2z"/><path d="M91.72 686.84l2.6 4.5h-5.2z"/><path d="M97.65 693.24l2.6 4.5h-5.2z"/><path d="M103.58 699.63l2.6 4.5h-5.2z"/><path d="M109.5 699.63l2.6 4.5h-5.2z"/></g></g>
<g><path d="M162.5 642.5V752.4" stroke="#2a2a2a" stroke-width="0.8" fill="none"/>
<path d="M159.1 752.4H162.5M159.1 734.13H162.5M159.1 715.87H162.5M159.1 697.6H162.5M159.1 679.33H162.5M159.1 661.07H162.5M159.1 642.8H162.5" stroke="#2a2a2a" stroke-width="0.8" fill="none"/>
<text x="159.5" y="755.5" text-anchor="end" font-size="7.6">0</text>
<text x="159.5" y="737.23" text-anchor="end" font-size="7.6">20</text>
<text x="159.5" y="718.97" text-anchor="end" font-size="7.6">40</text>
<text x="159.5" y="700.7" text-anchor="end" font-size="7.6">60</text>
<text x="159.5" y="682.43" text-anchor="end" font-size="7.6">80</text>
<text x="159.5" y="664.17" text-anchor="end" font-size="7.6">100</text>
<text x="159.5" y="645.9" text-anchor="end" font-size="7.6">120</text>
<path d="M162.5 752.4H169.2M167 752.4v3M169.2 750.8v4.4M176.7 752.4H239.2M176.7 750.8v4.4M179.2 752.4v3M191.2 752.4v3M203.2 752.4v3M215.2 752.4v3M227.2 752.4v3M239.2 752.4v3" stroke="#2a2a2a" stroke-width="0.8" fill="none"/>
<path d="M182.81 752.4v2.7M184.93 752.4v2.7M186.42 752.4v2.7M187.59 752.4v2.7M188.54 752.4v2.7M189.34 752.4v2.7M190.04 752.4v2.7M190.65 752.4v2.7M194.81 752.4v2.7M196.93 752.4v2.7M198.42 752.4v2.7M199.59 752.4v2.7M200.54 752.4v2.7M201.34 752.4v2.7M202.04 752.4v2.7M202.65 752.4v2.7M206.81 752.4v2.7M208.93 752.4v2.7M210.42 752.4v2.7M211.59 752.4v2.7M212.54 752.4v2.7M213.34 752.4v2.7M214.04 752.4v2.7M214.65 752.4v2.7M218.81 752.4v2.7M220.93 752.4v2.7M222.42 752.4v2.7M223.59 752.4v2.7M224.54 752.4v2.7M225.34 752.4v2.7M226.04 752.4v2.7M226.65 752.4v2.7M230.81 752.4v2.7M232.93 752.4v2.7M234.42 752.4v2.7M235.59 752.4v2.7M236.54 752.4v2.7M237.34 752.4v2.7M238.04 752.4v2.7M238.65 752.4v2.7" stroke="#333" stroke-width="0.7" fill="none"/>
<text x="166.8" y="764.2" text-anchor="middle" font-size="8" >0</text>
<text x="176.8" y="764.2" text-anchor="middle" font-size="8" >–9</text>
<text x="188.8" y="764.2" text-anchor="middle" font-size="8" >–8</text>
<text x="200.8" y="764.2" text-anchor="middle" font-size="8" >–7</text>
<text x="212.8" y="764.2" text-anchor="middle" font-size="8" >–6</text>
<text x="224.8" y="764.2" text-anchor="middle" font-size="8" >–5</text>
<text x="236.8" y="764.2" text-anchor="middle" font-size="8" >–4</text>
<text x="199.3" y="778" text-anchor="middle" font-size="9.1" >SCH772984 log [mol/L]</text>
<path d="M167 661.07L169 667.46L173 668.37L177.76 677.4L178.38 678.59L179 679.93L179.61 681.42L180.23 683.09L180.85 684.93L181.47 686.95L182.09 689.14L182.7 691.51L183.32 694.04L183.94 696.71L184.56 699.52L185.18 702.42L185.79 705.39L186.41 708.39L187.03 711.39L187.65 714.36L188.27 717.26L188.88 720.06L189.5 722.73L190.12 725.25L190.74 727.61L191.36 729.8L191.97 731.81L192.59 733.64L193.21 735.3L193.83 736.79L194.45 738.13L195.06 739.31L195.68 740.36L196.3 741.28L196.92 742.1L197.54 742.81L198.15 743.43L198.77 743.97L199.39 744.43L200.01 744.84L200.63 745.19L201.24 745.5L201.86 745.76L202.48 745.99L203.1 746.18L203.72 746.35L204.33 746.5L204.95 746.62L205.57 746.73L206.19 746.82L206.81 746.9L207.42 746.97L208.04 747.03L208.66 747.08L209.28 747.12L209.9 747.15L210.51 747.19L211.13 747.21L211.75 747.24L212.37 747.26L212.99 747.27L213.6 747.29L214.22 747.3L214.84 747.31L215.46 747.32L216.08 747.33L216.69 747.34L217.31 747.34L217.93 747.35L218.55 747.35L219.17 747.35L219.78 747.36L220.4 747.36L221.02 747.36L221.64 747.36L222.26 747.37L222.87 747.37L223.49 747.37L224.11 747.37L224.73 747.37L225.35 747.37L225.96 747.37L226.58 747.37L227.2 747.37" stroke="#111" stroke-width="1.1" fill="none" stroke-linejoin="round"/>
<path d="M167 661.07L177.76 660.36L178.38 660.52L179 660.7L179.61 660.91L180.23 661.15L180.85 661.42L181.47 661.73L182.09 662.08L182.7 662.48L183.32 662.94L183.94 663.45L184.56 664.03L185.18 664.69L185.79 665.43L186.41 666.26L187.03 667.2L187.65 668.24L188.27 669.41L188.88 670.7L189.5 672.14L190.12 673.72L190.74 675.45L191.36 677.33L191.97 679.38L192.59 681.59L193.21 683.95L193.83 686.46L194.45 689.1L195.06 691.87L195.68 694.74L196.3 697.69L196.92 700.7L197.54 703.74L198.15 706.78L198.77 709.79L199.39 712.74L200.01 715.62L200.63 718.4L201.24 721.05L201.86 723.57L202.48 725.95L203.1 728.17L203.72 730.22L204.33 732.12L204.95 733.87L205.57 735.46L206.19 736.9L206.81 738.21L207.42 739.38L208.04 740.44L208.66 741.38L209.28 742.22L209.9 742.97L210.51 743.63L211.13 744.22L211.75 744.74L212.37 745.2L212.99 745.6L213.6 745.96L214.22 746.27L214.84 746.54L215.46 746.79L216.08 747L216.69 747.18L217.31 747.35L217.93 747.49L218.55 747.61L219.17 747.72L219.78 747.82L220.4 747.9L221.02 747.97L221.64 748.04L222.26 748.09L222.87 748.14L223.49 748.18L224.11 748.22L224.73 748.25L225.35 748.28L225.96 748.3L226.58 748.33L227.2 748.34" stroke="#d81e3c" stroke-width="1.0" fill="none" stroke-linejoin="round"/>
<path d="M185.2 698.51V703.99M182.5 698.51h5.4M182.5 703.99h5.4" stroke="#111" stroke-width="0.85" fill="none"/>
<g fill="#111"><circle cx="167" cy="661.07" r="2.45"/><circle cx="179.2" cy="674.31" r="2.45"/><circle cx="185.2" cy="701.25" r="2.45"/><circle cx="191.2" cy="728.65" r="2.45"/><circle cx="197.2" cy="740.98" r="2.45"/><circle cx="203.2" cy="746.46" r="2.45"/><circle cx="209.2" cy="747.38" r="2.45"/><circle cx="215.2" cy="746.92" r="2.45"/><circle cx="221.2" cy="746.92" r="2.45"/><circle cx="227.2" cy="746.92" r="2.45"/></g>
<path d="M179.2 657.41V662.89M176.5 657.41h5.4M176.5 662.89h5.4" stroke="#d81e3c" stroke-width="0.85" fill="none"/>
<g fill="#d81e3c"><path d="M167 658.92l2.6 4.5h-5.2z"/><path d="M179.2 657.55l2.6 4.5h-5.2z"/><path d="M185.2 663.03l2.6 4.5h-5.2z"/><path d="M191.2 676.28l2.6 4.5h-5.2z"/><path d="M197.2 699.57l2.6 4.5h-5.2z"/><path d="M203.2 725.14l2.6 4.5h-5.2z"/><path d="M209.2 739.75l2.6 4.5h-5.2z"/><path d="M215.2 744.32l2.6 4.5h-5.2z"/><path d="M221.2 745.23l2.6 4.5h-5.2z"/><path d="M227.2 745.23l2.6 4.5h-5.2z"/></g></g>
<path d="M369 615.5h11" stroke="#111" stroke-width="0.9"/><circle cx="374.5" cy="615.5" r="2.45" fill="#111"/><text x="384" y="618.7" font-size="9" >A375 + RFP</text>
<path d="M369 625.8h11" stroke="#d81e3c" stroke-width="0.9"/><path d="M374.5 623.3l2.2 3.9h-4.4z" fill="#d81e3c"/><text x="384" y="629" font-size="9" >A375 + <tspan font-style="italic">MEK1</tspan><tspan dy="-3.2" font-size="7">P124L</tspan></text>
<g><path d="M310.2 638.1V752.9" stroke="#2a2a2a" stroke-width="0.8" fill="none"/>
<path d="M306.8 752.9H310.2M306.8 733.82H310.2M306.8 714.73H310.2M306.8 695.65H310.2M306.8 676.57H310.2M306.8 657.48H310.2M306.8 638.4H310.2" stroke="#2a2a2a" stroke-width="0.8" fill="none"/>
<text x="304" y="756" text-anchor="end" font-size="7.6">0</text>
<text x="304" y="736.92" text-anchor="end" font-size="7.6">20</text>
<text x="304" y="717.83" text-anchor="end" font-size="7.6">40</text>
<text x="304" y="698.75" text-anchor="end" font-size="7.6">60</text>
<text x="304" y="679.67" text-anchor="end" font-size="7.6">80</text>
<text x="304" y="660.58" text-anchor="end" font-size="7.6">100</text>
<text x="304" y="641.5" text-anchor="end" font-size="7.6">120</text>
<path d="M310.2 752.9H317.6M315.4 752.9v3M317.6 751.3v4.4M326 752.9H390M326 751.3v4.4M328.5 752.9v3M340.8 752.9v3M353.1 752.9v3M365.4 752.9v3M377.7 752.9v3M390 752.9v3" stroke="#2a2a2a" stroke-width="0.8" fill="none"/>
<path d="M332.2 752.9v2.7M334.37 752.9v2.7M335.91 752.9v2.7M337.1 752.9v2.7M338.07 752.9v2.7M338.89 752.9v2.7M339.61 752.9v2.7M340.24 752.9v2.7M344.5 752.9v2.7M346.67 752.9v2.7M348.21 752.9v2.7M349.4 752.9v2.7M350.37 752.9v2.7M351.19 752.9v2.7M351.91 752.9v2.7M352.54 752.9v2.7M356.8 752.9v2.7M358.97 752.9v2.7M360.51 752.9v2.7M361.7 752.9v2.7M362.67 752.9v2.7M363.49 752.9v2.7M364.21 752.9v2.7M364.84 752.9v2.7M369.1 752.9v2.7M371.27 752.9v2.7M372.81 752.9v2.7M374 752.9v2.7M374.97 752.9v2.7M375.79 752.9v2.7M376.51 752.9v2.7M377.14 752.9v2.7M381.4 752.9v2.7M383.57 752.9v2.7M385.11 752.9v2.7M386.3 752.9v2.7M387.27 752.9v2.7M388.09 752.9v2.7M388.81 752.9v2.7M389.44 752.9v2.7" stroke="#333" stroke-width="0.7" fill="none"/>
<text x="315.2" y="764.7" text-anchor="middle" font-size="8" >0</text>
<text x="326.1" y="764.7" text-anchor="middle" font-size="8" >–9</text>
<text x="338.4" y="764.7" text-anchor="middle" font-size="8" >–8</text>
<text x="350.7" y="764.7" text-anchor="middle" font-size="8" >–7</text>
<text x="363" y="764.7" text-anchor="middle" font-size="8" >–6</text>
<text x="375.3" y="764.7" text-anchor="middle" font-size="8" >–5</text>
<text x="387.6" y="764.7" text-anchor="middle" font-size="8" >–4</text>
<text x="345.5" y="778.5" text-anchor="middle" font-size="9.1" >GSK1120212 log [mol/L]</text>
<text transform="translate(284.7 694.85) rotate(-90)" text-anchor="middle" font-size="9" >Viability (% control)</text>
<path d="M315.4 657.48L317.2 682.29L318.2 684.2L328.13 686.27L328.75 692.28L329.37 697.92L329.99 703.16L330.61 708L331.23 712.42L331.85 716.43L332.47 720.04L333.09 723.28L333.71 726.16L334.33 728.71L334.95 730.96L335.57 732.94L336.19 734.67L336.81 736.17L337.43 737.49L338.04 738.63L338.66 739.62L339.28 740.47L339.9 741.21L340.52 741.85L341.14 742.4L341.76 742.87L342.38 743.28L343 743.63L343.62 743.93L344.24 744.19L344.86 744.41L345.48 744.6L346.1 744.77L346.72 744.91L347.34 745.03L347.96 745.13L348.58 745.22L349.2 745.29L349.82 745.36L350.44 745.41L351.06 745.46L351.68 745.5L352.3 745.54L352.92 745.57L353.54 745.59L354.15 745.61L354.77 745.63L355.39 745.65L356.01 745.66L356.63 745.67L357.25 745.68L357.87 745.69L358.49 745.7L359.11 745.71L359.73 745.71L360.35 745.72L360.97 745.72L361.59 745.72L362.21 745.73L362.83 745.73L363.45 745.73L364.07 745.73L364.69 745.73L365.31 745.74L365.93 745.74L366.55 745.74L367.17 745.74L367.79 745.74L368.41 745.74L369.03 745.74L369.65 745.74L370.26 745.74L370.88 745.74L371.5 745.74L372.12 745.74L372.74 745.74L373.36 745.74L373.98 745.74L374.6 745.74L375.22 745.74L375.84 745.74L376.46 745.74L377.08 745.74L377.7 745.74" stroke="#111" stroke-width="1.1" fill="none" stroke-linejoin="round"/>
<path d="M315.4 654.62L327.02 656.43L327.66 656.68L328.29 656.96L328.92 657.27L329.56 657.63L330.19 658.04L330.82 658.49L331.46 659.01L332.09 659.59L332.73 660.24L333.36 660.97L333.99 661.79L334.63 662.71L335.26 663.73L335.89 664.87L336.53 666.13L337.16 667.53L337.79 669.06L338.43 670.74L339.06 672.58L339.69 674.57L340.33 676.72L340.96 679.04L341.59 681.51L342.23 684.13L342.86 686.89L343.49 689.78L344.13 692.78L344.76 695.86L345.39 699.01L346.03 702.21L346.66 705.41L347.29 708.6L347.93 711.75L348.56 714.83L349.19 717.83L349.83 720.71L350.46 723.47L351.1 726.08L351.73 728.55L352.36 730.86L353 733.01L353.63 735L354.26 736.83L354.9 738.51L355.53 740.04L356.16 741.43L356.8 742.68L357.43 743.82L358.06 744.84L358.7 745.75L359.33 746.57L359.96 747.3L360.6 747.95L361.23 748.53L361.86 749.04L362.5 749.5L363.13 749.9L363.76 750.26L364.4 750.57L365.03 750.85L365.66 751.1L366.3 751.31L366.93 751.51L367.56 751.67L368.2 751.82L368.83 751.95L369.47 752.07L370.1 752.17L370.73 752.26L371.37 752.34L372 752.4L372.63 752.46L373.27 752.52L373.9 752.56L374.53 752.61L375.17 752.64L375.8 752.67L376.43 752.7L377.07 752.72L377.7 752.75" stroke="#d81e3c" stroke-width="1.0" fill="none" stroke-linejoin="round"/>
<path d="M315.4 653.67V661.3M312.7 653.67h5.4M312.7 661.3h5.4M328.5 689.92V699.47M325.8 689.92h5.4M325.8 699.47h5.4" stroke="#111" stroke-width="0.85" fill="none"/>
<g fill="#111"><circle cx="315.4" cy="657.48" r="2.45"/><circle cx="328.5" cy="694.7" r="2.45"/><circle cx="334.65" cy="733.82" r="2.45"/><circle cx="340.8" cy="743.36" r="2.45"/><circle cx="346.95" cy="744.79" r="2.45"/><circle cx="353.1" cy="745.27" r="2.45"/><circle cx="359.25" cy="746.22" r="2.45"/><circle cx="365.4" cy="745.27" r="2.45"/><circle cx="371.55" cy="746.22" r="2.45"/><circle cx="377.7" cy="745.27" r="2.45"/></g>
<path d="M315.4 655.1V660.82M312.7 655.1h5.4M312.7 660.82h5.4M328.5 655.57V661.3M325.8 655.57h5.4M325.8 661.3h5.4M334.65 662.25V667.98M331.95 662.25h5.4M331.95 667.98h5.4M340.8 667.02V678.48M338.1 667.02h5.4M338.1 678.48h5.4M346.95 705.19V724.27M344.25 705.19h5.4M344.25 724.27h5.4" stroke="#d81e3c" stroke-width="0.85" fill="none"/>
<g fill="#d81e3c"><path d="M315.4 655.36l2.6 4.5h-5.2z"/><path d="M328.5 655.84l2.6 4.5h-5.2z"/><path d="M334.65 662.52l2.6 4.5h-5.2z"/><path d="M340.8 670.15l2.6 4.5h-5.2z"/><path d="M346.95 712.13l2.6 4.5h-5.2z"/><path d="M353.1 742.67l2.6 4.5h-5.2z"/><path d="M359.25 744.57l2.6 4.5h-5.2z"/><path d="M365.4 745.53l2.6 4.5h-5.2z"/><path d="M371.55 745.53l2.6 4.5h-5.2z"/><path d="M377.7 746.01l2.6 4.5h-5.2z"/></g></g>
<g><path d="M428 639.4V752.6" stroke="#2a2a2a" stroke-width="0.8" fill="none"/>
<path d="M424.6 752.6H428M424.6 733.78H428M424.6 714.97H428M424.6 696.15H428M424.6 677.33H428M424.6 658.52H428M424.6 639.7H428" stroke="#2a2a2a" stroke-width="0.8" fill="none"/>
<text x="421.8" y="755.7" text-anchor="end" font-size="7.6">0</text>
<text x="421.8" y="736.88" text-anchor="end" font-size="7.6">20</text>
<text x="421.8" y="718.07" text-anchor="end" font-size="7.6">40</text>
<text x="421.8" y="699.25" text-anchor="end" font-size="7.6">60</text>
<text x="421.8" y="680.43" text-anchor="end" font-size="7.6">80</text>
<text x="421.8" y="661.62" text-anchor="end" font-size="7.6">100</text>
<text x="421.8" y="642.8" text-anchor="end" font-size="7.6">120</text>
<path d="M428 752.6H435.5M433.3 752.6v3M435.5 751v4.4M443.3 752.6H506.8M443.3 751v4.4M445.8 752.6v3M458 752.6v3M470.2 752.6v3M482.4 752.6v3M494.6 752.6v3M506.8 752.6v3" stroke="#2a2a2a" stroke-width="0.8" fill="none"/>
<path d="M449.47 752.6v2.7M451.62 752.6v2.7M453.15 752.6v2.7M454.33 752.6v2.7M455.29 752.6v2.7M456.11 752.6v2.7M456.82 752.6v2.7M457.44 752.6v2.7M461.67 752.6v2.7M463.82 752.6v2.7M465.35 752.6v2.7M466.53 752.6v2.7M467.49 752.6v2.7M468.31 752.6v2.7M469.02 752.6v2.7M469.64 752.6v2.7M473.87 752.6v2.7M476.02 752.6v2.7M477.55 752.6v2.7M478.73 752.6v2.7M479.69 752.6v2.7M480.51 752.6v2.7M481.22 752.6v2.7M481.84 752.6v2.7M486.07 752.6v2.7M488.22 752.6v2.7M489.75 752.6v2.7M490.93 752.6v2.7M491.89 752.6v2.7M492.71 752.6v2.7M493.42 752.6v2.7M494.04 752.6v2.7M498.27 752.6v2.7M500.42 752.6v2.7M501.95 752.6v2.7M503.13 752.6v2.7M504.09 752.6v2.7M504.91 752.6v2.7M505.62 752.6v2.7M506.24 752.6v2.7" stroke="#333" stroke-width="0.7" fill="none"/>
<text x="433.1" y="764.4" text-anchor="middle" font-size="8" >0</text>
<text x="443.4" y="764.4" text-anchor="middle" font-size="8" >–9</text>
<text x="455.6" y="764.4" text-anchor="middle" font-size="8" >–8</text>
<text x="467.8" y="764.4" text-anchor="middle" font-size="8" >–7</text>
<text x="480" y="764.4" text-anchor="middle" font-size="8" >–6</text>
<text x="492.2" y="764.4" text-anchor="middle" font-size="8" >–5</text>
<text x="504.4" y="764.4" text-anchor="middle" font-size="8" >–4</text>
<text x="466.5" y="778.2" text-anchor="middle" font-size="9.1" >SCH772984 log [mol/L]</text>
<path d="M433.3 658.52L434.5 674.51L435.7 676.39L443.1 677.8L444.82 691.18L445.45 693.15L446.07 695.21L446.69 697.34L447.31 699.54L447.94 701.79L448.56 704.08L449.18 706.39L449.8 708.71L450.42 711.02L451.05 713.31L451.67 715.56L452.29 717.75L452.91 719.88L453.53 721.93L454.16 723.89L454.78 725.76L455.4 727.53L456.02 729.2L456.65 730.77L457.27 732.22L457.89 733.58L458.51 734.84L459.13 735.99L459.76 737.05L460.38 738.03L461 738.92L461.62 739.73L462.25 740.46L462.87 741.13L463.49 741.73L464.11 742.27L464.73 742.77L465.36 743.21L465.98 743.61L466.6 743.96L467.22 744.28L467.85 744.57L468.47 744.83L469.09 745.06L469.71 745.26L470.33 745.45L470.96 745.61L471.58 745.76L472.2 745.89L472.82 746.01L473.45 746.11L474.07 746.2L474.69 746.28L475.31 746.36L475.93 746.42L476.56 746.48L477.18 746.53L477.8 746.58L478.42 746.62L479.05 746.66L479.67 746.69L480.29 746.72L480.91 746.75L481.53 746.77L482.16 746.79L482.78 746.81L483.4 746.82L484.02 746.84L484.64 746.85L485.27 746.86L485.89 746.87L486.51 746.88L487.13 746.89L487.76 746.9L488.38 746.9L489 746.91L489.62 746.91L490.24 746.92L490.87 746.92L491.49 746.93L492.11 746.93L492.73 746.93L493.36 746.94L493.98 746.94L494.6 746.94" stroke="#111" stroke-width="1.1" fill="none" stroke-linejoin="round"/>
<path d="M433.3 663.22L443.3 664.16L444.82 671.95L445.45 672.96L446.07 674.08L446.69 675.32L447.31 676.7L447.94 678.2L448.56 679.85L449.18 681.65L449.8 683.59L450.42 685.68L451.05 687.91L451.67 690.27L452.29 692.76L452.91 695.35L453.53 698.04L454.16 700.79L454.78 703.59L455.4 706.42L456.02 709.24L456.65 712.03L457.27 714.77L457.89 717.43L458.51 720L459.13 722.45L459.76 724.78L460.38 726.97L461 729.01L461.62 730.92L462.25 732.67L462.87 734.28L463.49 735.75L464.11 737.09L464.73 738.3L465.36 739.39L465.98 740.36L466.6 741.24L467.22 742.02L467.85 742.72L468.47 743.34L469.09 743.88L469.71 744.37L470.33 744.8L470.96 745.18L471.58 745.51L472.2 745.8L472.82 746.06L473.45 746.29L474.07 746.49L474.69 746.66L475.31 746.82L475.93 746.95L476.56 747.07L477.18 747.17L477.8 747.26L478.42 747.34L479.05 747.41L479.67 747.47L480.29 747.53L480.91 747.57L481.53 747.61L482.16 747.65L482.78 747.68L483.4 747.71L484.02 747.73L484.64 747.75L485.27 747.77L485.89 747.79L486.51 747.8L487.13 747.81L487.76 747.82L488.38 747.83L489 747.84L489.62 747.85L490.24 747.85L490.87 747.86L491.49 747.86L492.11 747.87L492.73 747.87L493.36 747.87L493.98 747.88L494.6 747.88" stroke="#d81e3c" stroke-width="1.0" fill="none" stroke-linejoin="round"/>
<path d="M445.8 689.09V694.74M443.1 689.09h5.4M443.1 694.74h5.4" stroke="#111" stroke-width="0.85" fill="none"/>
<g fill="#111"><circle cx="433.3" cy="658.52" r="2.45"/><circle cx="445.8" cy="691.92" r="2.45"/><circle cx="451.9" cy="717.32" r="2.45"/><circle cx="458" cy="731.9" r="2.45"/><circle cx="464.1" cy="741.31" r="2.45"/><circle cx="470.2" cy="744.13" r="2.45"/><circle cx="476.3" cy="745.54" r="2.45"/><circle cx="482.4" cy="746.48" r="2.45"/><circle cx="488.5" cy="746.96" r="2.45"/><circle cx="494.6" cy="746.48" r="2.45"/></g>
<path d="M433.3 654.75V664.16M430.6 654.75h5.4M430.6 664.16h5.4M445.8 665.1V674.51M443.1 665.1h5.4M443.1 674.51h5.4M451.9 690.5V698.03M449.2 690.5h5.4M449.2 698.03h5.4M458 714.03V719.67M455.3 714.03h5.4M455.3 719.67h5.4" stroke="#d81e3c" stroke-width="0.85" fill="none"/>
<g fill="#d81e3c"><path d="M433.3 656.86l2.6 4.5h-5.2z"/><path d="M445.8 667.21l2.6 4.5h-5.2z"/><path d="M451.9 691.67l2.6 4.5h-5.2z"/><path d="M458 714.25l2.6 4.5h-5.2z"/><path d="M464.1 734.01l2.6 4.5h-5.2z"/><path d="M470.2 739.65l2.6 4.5h-5.2z"/><path d="M476.3 743.41l2.6 4.5h-5.2z"/><path d="M482.4 745.3l2.6 4.5h-5.2z"/><path d="M488.5 745.3l2.6 4.5h-5.2z"/><path d="M494.6 745.3l2.6 4.5h-5.2z"/></g></g>
<text x="403.5" y="10.2" text-anchor="middle" font-size="9.1" font-weight="bold" fill="#111"><tspan font-style="italic">BRAF</tspan>-mutant melanoma</text>
<text x="403.3" y="21.2" text-anchor="middle" font-size="9.1" font-weight="bold" fill="#111">target engagement (A375)</text>
<text x="372.5" y="35.4" text-anchor="middle" font-size="9" >A375</text>
<text x="455.5" y="35.4" text-anchor="middle" font-size="9" >A375BR</text>
<path d="M335 50L402 40V50z" fill="#111"/><path d="M416 50L485.7 40V50z" fill="#111"/>
<text x="322.5" y="55.2" text-anchor="end" font-size="9" >SCH772984</text>
<text x="322.5" y="66.2" text-anchor="end" font-size="9" >(µmol/L)</text>
<text x="339.5" y="66.2" text-anchor="middle" font-size="9" >0</text>
<text x="359.5" y="66.2" text-anchor="middle" font-size="9" >0.1</text>
<text x="380" y="66.2" text-anchor="middle" font-size="9" >0.3</text>
<text x="399.5" y="66.2" text-anchor="middle" font-size="9" >1</text>
<text x="418" y="66.2" text-anchor="middle" font-size="9" >0</text>
<text x="436.7" y="66.2" text-anchor="middle" font-size="9" >0.1</text>
<text x="461" y="66.2" text-anchor="middle" font-size="9" >0.3</text>
<text x="484.5" y="66.2" text-anchor="middle" font-size="9" >1</text>
<text x="322" y="92.5" text-anchor="end" font-size="9" >pERK</text>
<text x="322" y="126.2" text-anchor="end" font-size="9" >ERK</text>
<text x="322" y="158.2" text-anchor="end" font-size="9" >pRSK</text>
<text x="322" y="184.2" text-anchor="end" font-size="9" >RSK</text>
<defs><filter id="bl" x="-5%" y="-5%" width="110%" height="110%"><feGaussianBlur stdDeviation="0.9"/></filter><filter id="bl2" x="-5%" y="-5%" width="110%" height="110%"><feGaussianBlur stdDeviation="0.6"/></filter><clipPath id="bc"><rect x="330.5" y="72.5" width="167" height="118.5"/></clipPath></defs>
<g clip-path="url(#bc)"><g filter="url(#bl)"><rect x="334.5" y="85" width="13.5" height="5" rx="2.5" fill="#6f8580" opacity="0.9"/><rect x="334.5" y="85" width="6.5" height="3" rx="1.5" fill="#9fb0ab" opacity="0.8"/><rect x="352" y="88" width="13" height="2.5" rx="1.25" fill="#9aaca6" opacity="0.7"/><rect x="352" y="95.5" width="8" height="3.5" rx="1.75" fill="#a9b8b3" opacity="0.7"/><rect x="372" y="86" width="13" height="2.5" rx="1.25" fill="#a3b3ae" opacity="0.6"/><rect x="392" y="81" width="13" height="9" rx="4.5" fill="#e3e9e6" opacity="0.5"/><rect x="410" y="83" width="17.5" height="5" rx="2.5" fill="#050808" opacity="1"/><rect x="410" y="88" width="17.5" height="5.5" rx="2.75" fill="#050808" opacity="1"/><rect x="429" y="83.6" width="18" height="4" rx="2" fill="#0c1513" opacity="1"/><rect x="429" y="88.8" width="18" height="3.8" rx="1.9" fill="#2a3a36" opacity="1"/><rect x="452" y="83.5" width="18" height="1.5" rx="0.75" fill="#c5d0cc" opacity="0.8"/><rect x="452" y="89.5" width="16" height="1.5" rx="0.75" fill="#cfd8d5" opacity="0.8"/><rect x="475" y="83.5" width="18" height="1.8" rx="0.9" fill="#8fa39c" opacity="0.8"/><rect x="475" y="89.5" width="18" height="1.7" rx="0.85" fill="#a9bab4" opacity="0.8"/><rect x="331" y="116.3" width="21" height="12.8" rx="5" fill="#040606" opacity="1"/><rect x="351" y="114.8" width="21" height="12.8" rx="5" fill="#040606" opacity="1"/><rect x="371" y="114.8" width="21" height="12.8" rx="5" fill="#040606" opacity="1"/><rect x="391" y="115.6" width="22" height="12.8" rx="5" fill="#040606" opacity="1"/><rect x="412" y="116.1" width="21" height="12.8" rx="5" fill="#040606" opacity="1"/><rect x="431" y="115.8" width="24" height="12.8" rx="5" fill="#040606" opacity="1"/><rect x="454" y="115.8" width="22" height="12.8" rx="5" fill="#040606" opacity="1"/><rect x="475" y="116.3" width="23" height="12.8" rx="5" fill="#040606" opacity="1"/><rect x="331" y="118.5" width="167" height="7.5" rx="2" fill="#040606" opacity="1"/><rect x="333" y="146.5" width="163" height="15" rx="3" fill="#e2e8e5" opacity="0.7"/><rect x="335" y="149.5" width="18" height="10.8" rx="3.5" fill="#0f1a1a" opacity="1"/><rect x="336" y="147.3" width="16" height="2" rx="1" fill="#0f1a1a" opacity="0.4"/><rect x="356" y="150.3" width="17" height="7.3" rx="3.5" fill="#33423f" opacity="1"/><rect x="357" y="147.3" width="15" height="2" rx="1" fill="#33423f" opacity="0.4"/><rect x="377" y="150.5" width="15" height="7.1" rx="3.5" fill="#2f3f3c" opacity="1"/><rect x="378" y="147.3" width="13" height="2" rx="1" fill="#2f3f3c" opacity="0.4"/><rect x="396" y="151.3" width="14" height="6.3" rx="3.5" fill="#9fb0aa" opacity="1"/><rect x="397" y="147.3" width="12" height="2" rx="1" fill="#9fb0aa" opacity="0.4"/><rect x="414" y="148.6" width="19" height="11.4" rx="3.5" fill="#030606" opacity="1"/><rect x="415" y="147.3" width="17" height="2" rx="1" fill="#030606" opacity="0.4"/><rect x="436" y="148.8" width="17" height="11.2" rx="3.5" fill="#050909" opacity="1"/><rect x="437" y="147.3" width="15" height="2" rx="1" fill="#050909" opacity="0.4"/><rect x="456" y="150" width="16" height="8.6" rx="3.5" fill="#222e2c" opacity="1"/><rect x="457" y="147.3" width="14" height="2" rx="1" fill="#222e2c" opacity="0.4"/><rect x="476" y="150" width="19" height="8.6" rx="3.5" fill="#4a5a57" opacity="1"/><rect x="477" y="147.3" width="17" height="2" rx="1" fill="#4a5a57" opacity="0.4"/><rect x="335" y="177.5" width="19" height="6" rx="3" fill="#26332f" opacity="1"/><rect x="354" y="178.5" width="22" height="6" rx="3" fill="#26332f" opacity="1"/><rect x="376" y="177" width="19" height="6" rx="3" fill="#26332f" opacity="1"/><rect x="395" y="178.8" width="19" height="6" rx="3" fill="#26332f" opacity="1"/><rect x="414" y="177.7" width="22" height="6" rx="3" fill="#26332f" opacity="1"/><rect x="436" y="178.5" width="19" height="6" rx="3" fill="#26332f" opacity="1"/><rect x="455" y="178.7" width="20" height="6" rx="3" fill="#26332f" opacity="1"/><rect x="475" y="177.5" width="21" height="6" rx="3" fill="#26332f" opacity="1"/><rect x="338" y="179.3" width="156" height="3.2" rx="1.5" fill="#26332f" opacity="1"/></g></g>
<rect x="330.3" y="72.2" width="167.4" height="118.8" fill="none" stroke="#0a0a0a" stroke-width="1.1"/>
</svg>
</body></html>
